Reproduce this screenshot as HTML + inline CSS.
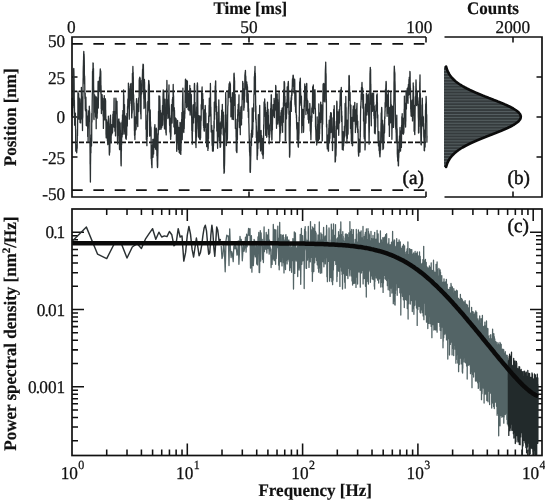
<!DOCTYPE html>
<html><head><meta charset="utf-8"><title>Figure</title>
<style>html,body{margin:0;padding:0;background:#fff}svg{display:block}</style></head>
<body>
<svg width="545" height="501" viewBox="0 0 545 501">
<rect width="545" height="501" fill="#fff"/>
<g fill="none" stroke="#111" stroke-linecap="butt">
<path d="M72.0 77.0h5.5M542.0 77.0h-5.5M72.0 117.0h5.5M542.0 117.0h-5.5M72.0 157.0h5.5M542.0 157.0h-5.5M249.0 37.0v5.5M249.0 197.0v-5.5M426.0 37.0v5.5M426.0 197.0v-5.5M513.0 37.0v5.5M513.0 197.0v-5.5M106.71 209.0v6.0M106.71 455.5v-6.0M127.01 209.0v6.0M127.01 455.5v-6.0M141.42 209.0v6.0M141.42 455.5v-6.0M152.59 209.0v6.0M152.59 455.5v-6.0M161.72 209.0v6.0M161.72 455.5v-6.0M169.44 209.0v6.0M169.44 455.5v-6.0M176.13 209.0v6.0M176.13 455.5v-6.0M182.02 209.0v6.0M182.02 455.5v-6.0M187.30 209.0v12.0M187.30 455.5v-12.0M222.01 209.0v6.0M222.01 455.5v-6.0M242.31 209.0v6.0M242.31 455.5v-6.0M256.72 209.0v6.0M256.72 455.5v-6.0M267.89 209.0v6.0M267.89 455.5v-6.0M277.02 209.0v6.0M277.02 455.5v-6.0M284.74 209.0v6.0M284.74 455.5v-6.0M291.43 209.0v6.0M291.43 455.5v-6.0M297.32 209.0v6.0M297.32 455.5v-6.0M302.60 209.0v12.0M302.60 455.5v-12.0M337.31 209.0v6.0M337.31 455.5v-6.0M357.61 209.0v6.0M357.61 455.5v-6.0M372.02 209.0v6.0M372.02 455.5v-6.0M383.19 209.0v6.0M383.19 455.5v-6.0M392.32 209.0v6.0M392.32 455.5v-6.0M400.04 209.0v6.0M400.04 455.5v-6.0M406.73 209.0v6.0M406.73 455.5v-6.0M412.62 209.0v6.0M412.62 455.5v-6.0M417.90 209.0v12.0M417.90 455.5v-12.0M452.61 209.0v6.0M452.61 455.5v-6.0M472.91 209.0v6.0M472.91 455.5v-6.0M487.32 209.0v6.0M487.32 455.5v-6.0M498.49 209.0v6.0M498.49 455.5v-6.0M507.62 209.0v6.0M507.62 455.5v-6.0M515.34 209.0v6.0M515.34 455.5v-6.0M522.03 209.0v6.0M522.03 455.5v-6.0M527.92 209.0v6.0M527.92 455.5v-6.0M533.20 209.0v12.0M533.20 455.5v-12.0M72.0 440.66h6.0M542.0 440.66h-6.0M72.0 427.07h6.0M542.0 427.07h-6.0M72.0 417.42h6.0M542.0 417.42h-6.0M72.0 409.94h6.0M542.0 409.94h-6.0M72.0 403.83h6.0M542.0 403.83h-6.0M72.0 398.66h6.0M542.0 398.66h-6.0M72.0 394.18h6.0M542.0 394.18h-6.0M72.0 390.23h6.0M542.0 390.23h-6.0M72.0 386.70h12.0M542.0 386.70h-12.0M72.0 363.46h6.0M542.0 363.46h-6.0M72.0 349.87h6.0M542.0 349.87h-6.0M72.0 340.22h6.0M542.0 340.22h-6.0M72.0 332.74h6.0M542.0 332.74h-6.0M72.0 326.63h6.0M542.0 326.63h-6.0M72.0 321.46h6.0M542.0 321.46h-6.0M72.0 316.98h6.0M542.0 316.98h-6.0M72.0 313.03h6.0M542.0 313.03h-6.0M72.0 309.50h12.0M542.0 309.50h-12.0M72.0 286.26h6.0M542.0 286.26h-6.0M72.0 272.67h6.0M542.0 272.67h-6.0M72.0 263.02h6.0M542.0 263.02h-6.0M72.0 255.54h6.0M542.0 255.54h-6.0M72.0 249.43h6.0M542.0 249.43h-6.0M72.0 244.26h6.0M542.0 244.26h-6.0M72.0 239.78h6.0M542.0 239.78h-6.0M72.0 235.83h6.0M542.0 235.83h-6.0M72.0 232.30h12.0M542.0 232.30h-12.0" stroke-width="1.55"/>
</g>
<g fill="none" stroke="#111" stroke-width="1.65">
<path d="M72.0 43.8H424.6M72.0 190.1H424.6" stroke-dasharray="10.68 10.68"/>
<path d="M72.0 91.4H426.0M72.0 142.4H426.0" stroke-dasharray="5 2"/>
</g>
<polyline points="72.0,116.5 72.1,105.3 72.2,98.4 72.2,101.1 72.3,99.0 72.4,111.6 72.5,111.9 72.6,116.9 72.6,110.6 72.7,113.7 72.8,105.7 72.9,103.5 73.0,107.7 73.0,102.8 73.1,104.3 73.2,88.1 73.3,77.6 73.4,74.6 73.4,73.6 73.5,69.9 73.6,68.8 73.7,70.2 73.8,68.7 73.8,68.5 73.9,71.4 74.0,76.3 74.1,79.2 74.2,89.5 74.2,95.2 74.3,105.7 74.4,100.2 74.5,109.0 74.6,118.7 74.6,124.9 74.7,122.0 74.8,125.3 74.9,122.2 75.0,120.3 75.1,121.1 75.1,117.9 75.2,117.9 75.3,121.9 75.4,113.2 75.5,123.1 75.5,125.6 75.6,129.8 75.7,143.4 75.8,151.2 75.9,150.3 75.9,151.0 76.0,149.7 76.1,147.0 76.2,144.6 76.3,150.9 76.3,146.2 76.4,151.1 76.5,150.8 76.6,149.0 76.7,152.8 76.7,149.3 76.8,151.5 76.9,149.6 77.0,147.1 77.1,148.4 77.1,147.9 77.2,148.3 77.3,135.9 77.4,129.5 77.5,130.6 77.5,136.1 77.6,125.1 77.7,118.3 77.8,116.6 77.9,108.9 77.9,98.0 78.0,91.1 78.1,99.4 78.2,102.5 78.3,105.3 78.3,103.3 78.4,105.4 78.5,97.3 78.6,103.8 78.7,100.2 78.7,93.6 78.8,113.0 78.9,116.5 79.0,119.2 79.1,115.0 79.1,114.7 79.2,97.8 79.3,110.5 79.4,114.4 79.5,109.4 79.5,99.0 79.6,105.3 79.7,104.0 79.8,103.7 79.9,108.4 79.9,110.2 80.0,122.5 80.1,119.0 80.2,113.3 80.3,115.4 80.3,116.0 80.4,121.5 80.5,122.3 80.6,111.0 80.7,113.7 80.7,122.9 80.8,113.6 80.9,103.2 81.0,98.7 81.1,98.9 81.2,110.7 81.2,111.1 81.3,103.4 81.4,87.5 81.5,96.8 81.6,107.3 81.6,100.5 81.7,103.5 81.8,111.1 81.9,119.0 82.0,113.5 82.0,108.2 82.1,96.9 82.2,99.8 82.3,106.3 82.4,105.4 82.4,123.2 82.5,130.5 82.6,115.0 82.7,118.2 82.8,116.2 82.8,115.5 82.9,100.4 83.0,89.2 83.1,79.3 83.2,77.0 83.2,72.3 83.3,67.1 83.4,64.8 83.5,59.8 83.6,62.4 83.6,57.4 83.7,53.2 83.8,51.5 83.9,54.9 84.0,54.3 84.0,53.9 84.1,54.7 84.2,57.5 84.3,62.3 84.4,75.0 84.4,79.9 84.5,84.1 84.6,75.9 84.7,78.7 84.8,87.7 84.8,91.7 84.9,96.2 85.0,98.7 85.1,95.2 85.2,93.6 85.2,93.2 85.3,108.9 85.4,109.6 85.5,110.8 85.6,106.2 85.6,107.7 85.7,103.5 85.8,97.9 85.9,97.1 86.0,103.2 86.0,103.8 86.1,110.2 86.2,120.6 86.3,125.6 86.4,109.3 86.4,114.8 86.5,120.0 86.6,124.6 86.7,109.8 86.8,114.7 86.9,117.0 86.9,119.9 87.0,122.9 87.1,115.6 87.2,117.1 87.3,125.1 87.3,126.3 87.4,116.7 87.5,120.3 87.6,126.0 87.7,125.5 87.7,136.6 87.8,121.1 87.9,130.7 88.0,130.7 88.1,133.6 88.1,142.2 88.2,129.0 88.3,128.4 88.4,121.9 88.5,121.6 88.5,113.7 88.6,111.0 88.7,114.2 88.8,115.7 88.9,111.5 88.9,115.9 89.0,112.3 89.1,116.7 89.2,119.4 89.3,113.2 89.3,106.2 89.4,108.7 89.5,112.1 89.6,111.7 89.7,115.9 89.7,113.5 89.8,121.9 89.9,139.7 90.0,147.1 90.1,156.1 90.1,163.8 90.2,164.8 90.3,173.9 90.4,182.1 90.5,167.8 90.5,165.9 90.6,158.9 90.7,146.6 90.8,144.1 90.9,153.0 90.9,148.9 91.0,143.8 91.1,138.1 91.2,143.9 91.3,136.6 91.3,135.0 91.4,141.3 91.5,146.0 91.6,141.8 91.7,142.1 91.7,129.2 91.8,113.3 91.9,116.9 92.0,122.3 92.1,115.0 92.1,112.9 92.2,101.4 92.3,95.2 92.4,92.0 92.5,75.2 92.5,71.4 92.6,72.6 92.7,76.3 92.8,68.9 92.9,73.0 93.0,68.8 93.0,62.8 93.1,63.3 93.2,63.6 93.3,76.1 93.4,79.6 93.4,72.2 93.5,68.4 93.6,85.9 93.7,90.4 93.8,94.0 93.8,110.0 93.9,118.8 94.0,119.5 94.1,102.2 94.2,107.5 94.2,112.5 94.3,110.9 94.4,110.7 94.5,98.7 94.6,96.4 94.6,94.9 94.7,95.5 94.8,102.6 94.9,110.4 95.0,108.7 95.0,95.9 95.1,101.8 95.2,96.5 95.3,102.7 95.4,102.5 95.4,107.0 95.5,111.3 95.6,117.1 95.7,106.8 95.8,105.7 95.8,112.8 95.9,110.7 96.0,113.5 96.1,114.1 96.2,128.7 96.2,125.1 96.3,97.0 96.4,104.6 96.5,100.4 96.6,104.9 96.6,107.5 96.7,107.0 96.8,114.0 96.9,107.0 97.0,108.3 97.0,104.0 97.1,118.2 97.2,113.2 97.3,103.3 97.4,113.2 97.4,106.6 97.5,102.5 97.6,100.6 97.7,97.7 97.8,98.4 97.8,101.2 97.9,100.5 98.0,88.0 98.1,81.3 98.2,107.3 98.2,101.1 98.3,108.0 98.4,99.9 98.5,96.7 98.6,93.4 98.7,86.0 98.7,81.4 98.8,86.1 98.9,89.6 99.0,87.4 99.1,90.8 99.1,86.8 99.2,85.3 99.3,80.4 99.4,83.9 99.5,81.8 99.5,78.4 99.6,77.1 99.7,78.0 99.8,91.6 99.9,81.5 99.9,76.5 100.0,76.2 100.1,73.5 100.2,70.9 100.3,68.9 100.3,76.4 100.4,74.8 100.5,74.5 100.6,71.8 100.7,71.3 100.7,70.8 100.8,73.0 100.9,93.9 101.0,85.3 101.1,89.4 101.1,96.7 101.2,109.0 101.3,102.6 101.4,113.5 101.5,104.7 101.5,106.9 101.6,106.7 101.7,100.8 101.8,103.0 101.9,100.2 101.9,99.5 102.0,97.6 102.1,94.7 102.2,97.6 102.3,109.9 102.3,101.9 102.4,102.9 102.5,99.6 102.6,104.4 102.7,107.3 102.7,107.5 102.8,105.6 102.9,98.3 103.0,101.2 103.1,110.6 103.1,115.9 103.2,116.5 103.3,109.9 103.4,128.4 103.5,120.2 103.5,116.9 103.6,110.7 103.7,120.3 103.8,118.6 103.9,102.3 103.9,104.5 104.0,103.0 104.1,104.0 104.2,104.9 104.3,100.8 104.3,95.6 104.4,104.1 104.5,107.0 104.6,116.8 104.7,114.5 104.8,117.2 104.8,119.8 104.9,116.6 105.0,103.8 105.1,103.2 105.2,98.6 105.2,105.4 105.3,104.7 105.4,99.3 105.5,101.6 105.6,100.6 105.6,110.1 105.7,110.0 105.8,116.5 105.9,119.6 106.0,126.1 106.0,134.0 106.1,134.9 106.2,137.7 106.3,137.9 106.4,136.1 106.4,120.3 106.5,125.8 106.6,121.8 106.7,119.9 106.8,127.2 106.8,124.5 106.9,126.0 107.0,125.0 107.1,126.7 107.2,133.0 107.2,121.9 107.3,133.6 107.4,140.8 107.5,130.1 107.6,139.4 107.6,140.8 107.7,143.2 107.8,144.6 107.9,135.3 108.0,137.8 108.0,143.9 108.1,140.6 108.2,141.4 108.3,134.9 108.4,125.5 108.4,116.2 108.5,119.9 108.6,127.8 108.7,123.4 108.8,132.7 108.8,131.4 108.9,141.7 109.0,134.2 109.1,133.3 109.2,141.1 109.2,147.8 109.3,154.0 109.4,155.0 109.5,152.2 109.6,151.5 109.6,146.9 109.7,140.9 109.8,152.2 109.9,144.3 110.0,134.9 110.0,127.6 110.1,124.4 110.2,119.2 110.3,118.0 110.4,117.4 110.5,115.2 110.5,124.7 110.6,118.8 110.7,122.8 110.8,124.9 110.9,124.7 110.9,132.7 111.0,133.8 111.1,142.8 111.2,135.4 111.3,131.2 111.3,126.5 111.4,131.4 111.5,132.9 111.6,135.0 111.7,127.4 111.7,129.8 111.8,129.3 111.9,125.7 112.0,124.6 112.1,124.8 112.1,126.2 112.2,124.4 112.3,129.7 112.4,133.0 112.5,130.4 112.5,131.1 112.6,132.2 112.7,127.9 112.8,116.8 112.9,119.0 112.9,114.2 113.0,119.5 113.1,121.8 113.2,120.1 113.3,113.9 113.3,111.5 113.4,115.1 113.5,111.3 113.6,118.0 113.7,126.8 113.7,126.5 113.8,113.8 113.9,111.6 114.0,101.8 114.1,98.1 114.1,112.9 114.2,114.5 114.3,122.3 114.4,127.4 114.5,115.2 114.5,115.2 114.6,121.5 114.7,111.5 114.8,122.8 114.9,126.8 114.9,131.2 115.0,127.6 115.1,128.0 115.2,129.5 115.3,111.9 115.3,123.8 115.4,128.9 115.5,135.7 115.6,135.9 115.7,129.3 115.7,118.0 115.8,103.2 115.9,98.1 116.0,102.9 116.1,108.4 116.1,99.7 116.2,106.2 116.3,106.2 116.4,105.6 116.5,106.9 116.6,102.0 116.6,106.2 116.7,103.7 116.8,113.7 116.9,104.4 117.0,101.3 117.0,105.1 117.1,111.7 117.2,116.7 117.3,126.8 117.4,128.5 117.4,133.4 117.5,140.8 117.6,138.7 117.7,144.1 117.8,136.6 117.8,128.9 117.9,133.6 118.0,124.4 118.1,123.5 118.2,120.8 118.2,125.2 118.3,135.3 118.4,128.5 118.5,133.5 118.6,123.7 118.6,119.3 118.7,133.9 118.8,127.7 118.9,118.9 119.0,127.1 119.0,121.8 119.1,127.5 119.2,131.4 119.3,140.5 119.4,135.2 119.4,140.9 119.5,148.9 119.6,149.7 119.7,133.9 119.8,132.7 119.8,122.1 119.9,126.4 120.0,133.1 120.1,136.0 120.2,123.3 120.2,125.6 120.3,130.4 120.4,130.5 120.5,139.6 120.6,134.8 120.6,136.1 120.7,146.6 120.8,147.2 120.9,159.3 121.0,164.0 121.0,160.4 121.1,165.8 121.2,165.0 121.3,150.3 121.4,151.2 121.4,142.3 121.5,140.4 121.6,145.0 121.7,133.1 121.8,134.5 121.8,122.6 121.9,129.7 122.0,126.5 122.1,137.1 122.2,120.7 122.3,120.8 122.3,126.7 122.4,127.0 122.5,114.8 122.6,122.8 122.7,126.2 122.7,134.5 122.8,123.8 122.9,110.4 123.0,116.7 123.1,113.9 123.1,115.0 123.2,114.3 123.3,115.1 123.4,118.5 123.5,122.6 123.5,108.8 123.6,89.8 123.7,98.8 123.8,94.9 123.9,97.5 123.9,111.6 124.0,116.4 124.1,129.3 124.2,134.0 124.3,116.9 124.3,122.5 124.4,105.3 124.5,104.6 124.6,118.2 124.7,128.1 124.7,127.9 124.8,129.8 124.9,130.2 125.0,120.1 125.1,128.6 125.1,123.6 125.2,118.7 125.3,116.0 125.4,129.7 125.5,127.0 125.5,132.0 125.6,131.2 125.7,138.3 125.8,133.2 125.9,123.4 125.9,116.9 126.0,122.3 126.1,129.5 126.2,139.3 126.3,138.0 126.3,138.5 126.4,134.2 126.5,135.9 126.6,134.5 126.7,134.3 126.7,135.3 126.8,123.0 126.9,113.5 127.0,115.2 127.1,120.7 127.1,123.1 127.2,124.6 127.3,126.0 127.4,119.9 127.5,111.1 127.5,106.7 127.6,109.5 127.7,108.3 127.8,100.8 127.9,98.8 127.9,103.0 128.0,102.4 128.1,99.5 128.2,102.6 128.3,98.8 128.4,87.3 128.4,83.1 128.5,94.5 128.6,88.1 128.7,91.6 128.8,89.9 128.8,97.7 128.9,102.2 129.0,105.7 129.1,108.3 129.2,116.5 129.2,111.6 129.3,119.2 129.4,109.0 129.5,101.2 129.6,105.7 129.6,101.8 129.7,95.1 129.8,93.2 129.9,103.8 130.0,102.2 130.0,90.2 130.1,86.2 130.2,89.7 130.3,89.0 130.4,84.1 130.4,94.5 130.5,86.1 130.6,89.4 130.7,95.5 130.8,97.9 130.8,92.1 130.9,84.8 131.0,83.5 131.1,90.6 131.2,100.3 131.2,95.5 131.3,99.6 131.4,99.0 131.5,96.6 131.6,100.1 131.6,108.0 131.7,117.4 131.8,117.8 131.9,107.5 132.0,107.2 132.0,113.2 132.1,113.3 132.2,109.9 132.3,98.9 132.4,91.2 132.4,73.5 132.5,73.6 132.6,74.3 132.7,74.0 132.8,75.0 132.8,71.7 132.9,66.5 133.0,71.2 133.1,73.3 133.2,72.3 133.2,75.7 133.3,77.2 133.4,97.5 133.5,97.7 133.6,94.7 133.6,98.2 133.7,100.1 133.8,110.0 133.9,104.6 134.0,102.8 134.1,111.9 134.1,105.8 134.2,112.8 134.3,119.1 134.4,130.8 134.5,128.0 134.5,133.9 134.6,135.8 134.7,133.0 134.8,136.8 134.9,139.5 134.9,127.8 135.0,135.0 135.1,135.1 135.2,127.9 135.3,116.9 135.3,119.3 135.4,123.4 135.5,128.7 135.6,121.5 135.7,125.7 135.7,130.0 135.8,123.3 135.9,119.1 136.0,120.0 136.1,117.7 136.1,129.2 136.2,114.2 136.3,108.5 136.4,101.0 136.5,104.9 136.5,98.7 136.6,108.4 136.7,111.0 136.8,106.8 136.9,111.2 136.9,123.6 137.0,121.5 137.1,119.0 137.2,105.0 137.3,106.5 137.3,110.6 137.4,108.8 137.5,106.7 137.6,103.9 137.7,112.0 137.7,125.6 137.8,126.6 137.9,110.0 138.0,106.8 138.1,109.4 138.1,105.6 138.2,105.7 138.3,100.5 138.4,110.8 138.5,107.0 138.5,98.2 138.6,103.7 138.7,111.6 138.8,108.9 138.9,107.0 138.9,104.8 139.0,97.1 139.1,97.5 139.2,79.9 139.3,80.1 139.3,79.8 139.4,78.5 139.5,79.3 139.6,83.0 139.7,79.5 139.7,77.4 139.8,77.3 139.9,77.7 140.0,77.7 140.1,78.6 140.2,78.3 140.2,79.0 140.3,81.1 140.4,82.2 140.5,95.8 140.6,102.0 140.6,101.8 140.7,113.9 140.8,105.3 140.9,112.1 141.0,118.8 141.0,118.7 141.1,98.2 141.2,93.8 141.3,88.1 141.4,92.7 141.4,88.1 141.5,84.0 141.6,94.1 141.7,91.5 141.8,86.9 141.8,80.3 141.9,85.3 142.0,81.2 142.1,90.4 142.2,85.5 142.2,79.9 142.3,77.8 142.4,76.3 142.5,72.3 142.6,69.1 142.6,69.7 142.7,73.0 142.8,75.7 142.9,65.3 143.0,68.0 143.0,64.2 143.1,64.9 143.2,64.3 143.3,64.3 143.4,64.8 143.4,66.0 143.5,72.2 143.6,89.5 143.7,89.0 143.8,98.5 143.8,95.7 143.9,95.2 144.0,108.5 144.1,95.1 144.2,91.5 144.2,88.3 144.3,85.8 144.4,79.4 144.5,81.7 144.6,85.1 144.6,82.2 144.7,94.2 144.8,97.7 144.9,99.7 145.0,89.6 145.0,90.4 145.1,91.3 145.2,90.3 145.3,93.0 145.4,98.5 145.4,107.8 145.5,105.1 145.6,102.1 145.7,103.3 145.8,104.8 145.9,121.2 145.9,129.2 146.0,122.6 146.1,115.0 146.2,120.6 146.3,129.7 146.3,139.5 146.4,131.5 146.5,137.3 146.6,137.3 146.7,132.1 146.7,136.9 146.8,139.2 146.9,145.7 147.0,139.2 147.1,131.4 147.1,138.9 147.2,129.2 147.3,134.2 147.4,136.5 147.5,129.8 147.5,122.0 147.6,119.9 147.7,110.4 147.8,101.5 147.9,108.9 147.9,112.2 148.0,105.2 148.1,110.8 148.2,110.1 148.3,99.6 148.3,89.6 148.4,89.7 148.5,85.0 148.6,84.0 148.7,80.7 148.7,80.4 148.8,80.9 148.9,80.8 149.0,81.7 149.1,90.9 149.1,83.2 149.2,86.2 149.3,84.6 149.4,91.7 149.5,102.0 149.5,115.9 149.6,125.8 149.7,136.2 149.8,119.2 149.9,125.6 149.9,130.4 150.0,120.8 150.1,115.4 150.2,110.0 150.3,111.8 150.3,115.2 150.4,122.3 150.5,121.6 150.6,126.5 150.7,134.1 150.7,135.4 150.8,132.1 150.9,126.8 151.0,127.9 151.1,130.2 151.1,141.0 151.2,158.5 151.3,158.8 151.4,157.3 151.5,160.9 151.5,158.8 151.6,164.3 151.7,164.8 151.8,165.2 151.9,167.7 152.0,167.7 152.0,166.6 152.1,145.3 152.2,151.7 152.3,150.0 152.4,147.4 152.4,148.3 152.5,147.5 152.6,146.2 152.7,145.6 152.8,146.0 152.8,139.3 152.9,152.8 153.0,157.3 153.1,147.8 153.2,139.4 153.2,141.8 153.3,151.7 153.4,153.0 153.5,149.6 153.6,153.3 153.6,154.1 153.7,148.7 153.8,139.1 153.9,144.5 154.0,145.6 154.0,140.2 154.1,141.4 154.2,147.1 154.3,147.3 154.4,144.3 154.4,142.6 154.5,127.8 154.6,127.0 154.7,136.1 154.8,134.7 154.8,127.9 154.9,124.6 155.0,132.3 155.1,139.7 155.2,139.8 155.2,138.7 155.3,135.0 155.4,137.6 155.5,149.2 155.6,140.0 155.6,141.1 155.7,134.7 155.8,139.5 155.9,135.8 156.0,133.2 156.0,135.7 156.1,136.4 156.2,131.0 156.3,128.1 156.4,133.4 156.4,144.9 156.5,150.0 156.6,141.9 156.7,133.6 156.8,140.8 156.8,142.0 156.9,156.1 157.0,150.1 157.1,152.3 157.2,161.3 157.2,153.8 157.3,163.4 157.4,166.9 157.5,167.5 157.6,167.2 157.7,165.0 157.7,161.3 157.8,157.1 157.9,151.4 158.0,139.9 158.1,132.0 158.1,129.6 158.2,135.0 158.3,133.8 158.4,125.3 158.5,115.6 158.5,111.4 158.6,124.9 158.7,113.8 158.8,113.7 158.9,101.8 158.9,95.8 159.0,102.3 159.1,111.4 159.2,110.6 159.3,117.5 159.3,129.6 159.4,123.5 159.5,116.5 159.6,120.3 159.7,119.7 159.7,96.2 159.8,98.9 159.9,100.9 160.0,107.6 160.1,112.4 160.1,116.6 160.2,112.8 160.3,115.2 160.4,113.5 160.5,110.5 160.5,111.2 160.6,121.2 160.7,128.0 160.8,129.1 160.9,127.1 160.9,129.4 161.0,129.3 161.1,126.3 161.2,115.2 161.3,121.6 161.3,121.4 161.4,128.1 161.5,120.8 161.6,113.1 161.7,114.9 161.7,127.6 161.8,114.3 161.9,117.9 162.0,122.2 162.1,124.6 162.1,124.9 162.2,125.8 162.3,118.4 162.4,110.3 162.5,105.5 162.5,123.0 162.6,125.2 162.7,124.1 162.8,121.1 162.9,119.7 162.9,108.1 163.0,98.1 163.1,95.0 163.2,89.9 163.3,92.4 163.3,100.6 163.4,98.8 163.5,103.2 163.6,97.4 163.7,100.6 163.8,102.9 163.8,91.3 163.9,101.5 164.0,100.2 164.1,101.2 164.2,100.2 164.2,114.9 164.3,109.5 164.4,126.4 164.5,128.9 164.6,122.9 164.6,122.5 164.7,115.0 164.8,116.2 164.9,99.6 165.0,108.6 165.0,99.2 165.1,108.9 165.2,114.8 165.3,115.8 165.4,115.3 165.4,117.8 165.5,113.7 165.6,122.7 165.7,129.5 165.8,123.7 165.8,128.2 165.9,133.1 166.0,131.7 166.1,124.1 166.2,134.9 166.2,125.3 166.3,120.6 166.4,104.7 166.5,101.6 166.6,89.0 166.6,89.6 166.7,92.7 166.8,93.5 166.9,80.5 167.0,84.1 167.0,93.2 167.1,110.2 167.2,113.7 167.3,108.7 167.4,102.8 167.4,99.7 167.5,100.9 167.6,101.2 167.7,106.7 167.8,109.0 167.8,115.8 167.9,118.6 168.0,116.5 168.1,112.0 168.2,110.7 168.2,115.2 168.3,117.5 168.4,117.1 168.5,116.7 168.6,117.1 168.6,99.4 168.7,94.6 168.8,96.3 168.9,90.1 169.0,85.0 169.0,98.3 169.1,103.3 169.2,105.1 169.3,107.4 169.4,110.6 169.5,118.2 169.5,121.4 169.6,125.4 169.7,117.9 169.8,120.8 169.9,125.8 169.9,131.9 170.0,121.9 170.1,119.0 170.2,118.3 170.3,124.4 170.3,132.4 170.4,134.3 170.5,133.3 170.6,139.2 170.7,139.3 170.7,131.2 170.8,123.3 170.9,136.4 171.0,132.4 171.1,120.6 171.1,115.7 171.2,119.5 171.3,117.2 171.4,109.9 171.5,104.7 171.5,108.7 171.6,110.3 171.7,110.9 171.8,115.5 171.9,113.6 171.9,116.9 172.0,118.3 172.1,123.0 172.2,119.8 172.3,106.7 172.3,106.5 172.4,99.2 172.5,110.9 172.6,105.7 172.7,102.4 172.7,97.3 172.8,100.8 172.9,102.7 173.0,100.9 173.1,97.8 173.1,92.7 173.2,84.5 173.3,90.8 173.4,90.4 173.5,100.8 173.5,96.9 173.6,95.6 173.7,106.8 173.8,117.4 173.9,123.0 173.9,126.9 174.0,117.3 174.1,115.5 174.2,114.8 174.3,107.7 174.3,109.9 174.4,114.6 174.5,110.3 174.6,116.7 174.7,121.3 174.7,134.1 174.8,130.3 174.9,129.8 175.0,125.0 175.1,128.5 175.1,128.3 175.2,123.2 175.3,117.8 175.4,126.7 175.5,126.7 175.6,124.9 175.6,133.4 175.7,132.2 175.8,119.6 175.9,128.7 176.0,130.6 176.0,118.7 176.1,128.3 176.2,119.3 176.3,124.8 176.4,141.9 176.4,141.9 176.5,136.0 176.6,139.3 176.7,151.2 176.8,148.8 176.8,151.3 176.9,137.0 177.0,136.9 177.1,139.2 177.2,137.8 177.2,140.8 177.3,135.1 177.4,127.2 177.5,125.9 177.6,120.5 177.6,123.2 177.7,125.9 177.8,125.3 177.9,132.2 178.0,129.8 178.0,138.5 178.1,141.7 178.2,142.5 178.3,144.5 178.4,146.1 178.4,148.5 178.5,149.5 178.6,137.1 178.7,127.5 178.8,135.4 178.8,140.2 178.9,139.1 179.0,138.3 179.1,139.4 179.2,152.4 179.2,149.1 179.3,150.8 179.4,150.0 179.5,151.0 179.6,151.2 179.6,153.1 179.7,142.4 179.8,138.7 179.9,132.4 180.0,122.5 180.0,136.8 180.1,151.1 180.2,149.0 180.3,138.7 180.4,137.8 180.4,143.5 180.5,147.5 180.6,144.2 180.7,153.8 180.8,154.4 180.8,154.1 180.9,146.6 181.0,151.1 181.1,140.6 181.2,139.0 181.3,141.6 181.3,122.6 181.4,129.5 181.5,135.8 181.6,119.5 181.7,120.7 181.7,129.6 181.8,122.5 181.9,112.4 182.0,127.1 182.1,135.5 182.1,134.0 182.2,139.7 182.3,135.9 182.4,123.3 182.5,111.6 182.5,104.4 182.6,100.2 182.7,95.6 182.8,93.0 182.9,91.4 182.9,88.2 183.0,99.4 183.1,104.8 183.2,112.2 183.3,118.0 183.3,127.7 183.4,131.4 183.5,125.8 183.6,126.7 183.7,127.1 183.7,123.5 183.8,132.6 183.9,119.8 184.0,119.0 184.1,118.4 184.1,126.6 184.2,128.7 184.3,123.8 184.4,111.8 184.5,111.0 184.5,115.4 184.6,113.0 184.7,118.2 184.8,108.1 184.9,113.7 184.9,113.5 185.0,104.3 185.1,99.4 185.2,91.0 185.3,84.7 185.3,90.4 185.4,80.1 185.5,79.1 185.6,79.3 185.7,83.4 185.7,83.5 185.8,90.7 185.9,98.8 186.0,97.4 186.1,99.1 186.1,102.2 186.2,96.1 186.3,95.2 186.4,101.1 186.5,107.6 186.5,101.5 186.6,97.1 186.7,93.4 186.8,91.1 186.9,85.7 186.9,80.3 187.0,94.2 187.1,84.5 187.2,84.9 187.3,86.3 187.4,81.3 187.4,100.8 187.5,95.6 187.6,105.3 187.7,103.9 187.8,106.4 187.8,103.4 187.9,104.7 188.0,102.4 188.1,109.5 188.2,103.2 188.2,103.8 188.3,104.8 188.4,92.8 188.5,104.8 188.6,99.8 188.6,96.8 188.7,96.4 188.8,98.5 188.9,99.7 189.0,110.7 189.0,107.6 189.1,101.0 189.2,93.6 189.3,95.3 189.4,102.3 189.4,100.0 189.5,94.7 189.6,96.2 189.7,89.6 189.8,95.7 189.8,85.4 189.9,91.5 190.0,89.5 190.1,115.1 190.2,110.7 190.2,105.0 190.3,100.4 190.4,96.0 190.5,88.7 190.6,97.1 190.6,102.1 190.7,111.5 190.8,105.8 190.9,98.9 191.0,100.9 191.0,100.5 191.1,103.5 191.2,99.2 191.3,94.6 191.4,102.3 191.4,102.5 191.5,112.7 191.6,117.1 191.7,118.1 191.8,128.2 191.8,130.6 191.9,123.9 192.0,132.6 192.1,136.9 192.2,140.3 192.2,139.7 192.3,144.2 192.4,133.1 192.5,128.8 192.6,129.6 192.6,131.8 192.7,130.5 192.8,123.8 192.9,121.7 193.0,106.9 193.1,105.0 193.1,105.9 193.2,105.9 193.3,115.6 193.4,117.5 193.5,116.3 193.5,115.7 193.6,122.9 193.7,112.6 193.8,108.8 193.9,104.4 193.9,107.8 194.0,107.7 194.1,117.6 194.2,115.8 194.3,97.7 194.3,87.6 194.4,83.9 194.5,83.5 194.6,84.7 194.7,95.0 194.7,107.1 194.8,106.1 194.9,105.1 195.0,105.8 195.1,102.5 195.1,105.6 195.2,108.4 195.3,111.4 195.4,113.3 195.5,112.2 195.5,131.7 195.6,127.5 195.7,134.4 195.8,145.3 195.9,141.9 195.9,136.6 196.0,147.5 196.1,140.9 196.2,141.6 196.3,134.6 196.3,137.3 196.4,137.5 196.5,135.2 196.6,122.6 196.7,121.7 196.7,106.8 196.8,107.8 196.9,107.5 197.0,94.3 197.1,86.8 197.1,85.5 197.2,86.2 197.3,85.0 197.4,82.8 197.5,84.4 197.5,87.2 197.6,86.0 197.7,94.4 197.8,105.2 197.9,113.3 197.9,118.1 198.0,125.8 198.1,129.1 198.2,127.4 198.3,131.1 198.3,131.0 198.4,133.1 198.5,137.0 198.6,134.9 198.7,125.5 198.7,115.6 198.8,119.5 198.9,120.1 199.0,117.4 199.1,132.5 199.2,122.2 199.2,137.1 199.3,122.5 199.4,138.6 199.5,127.2 199.6,123.2 199.6,131.8 199.7,139.3 199.8,130.6 199.9,116.0 200.0,122.0 200.0,125.9 200.1,132.4 200.2,139.7 200.3,134.6 200.4,126.5 200.4,121.8 200.5,131.4 200.6,138.0 200.7,124.8 200.8,125.2 200.8,129.3 200.9,118.5 201.0,120.3 201.1,120.7 201.2,118.0 201.2,104.7 201.3,110.1 201.4,108.0 201.5,105.0 201.6,103.9 201.6,92.5 201.7,93.9 201.8,106.7 201.9,101.1 202.0,95.4 202.0,88.8 202.1,87.0 202.2,104.9 202.3,108.7 202.4,93.9 202.4,97.6 202.5,97.8 202.6,97.8 202.7,93.4 202.8,103.9 202.8,100.8 202.9,106.3 203.0,106.7 203.1,110.3 203.2,99.3 203.2,109.5 203.3,112.9 203.4,119.2 203.5,125.8 203.6,119.4 203.6,120.2 203.7,127.6 203.8,125.8 203.9,124.6 204.0,130.3 204.0,115.2 204.1,121.3 204.2,118.1 204.3,131.2 204.4,130.3 204.4,118.1 204.5,123.1 204.6,109.7 204.7,115.8 204.8,109.4 204.9,112.7 204.9,115.8 205.0,120.2 205.1,117.8 205.2,105.4 205.3,107.7 205.3,106.2 205.4,113.1 205.5,114.9 205.6,127.4 205.7,123.5 205.7,123.1 205.8,112.9 205.9,121.0 206.0,140.0 206.1,142.0 206.1,129.1 206.2,130.2 206.3,131.9 206.4,133.8 206.5,134.7 206.5,135.1 206.6,140.2 206.7,146.7 206.8,139.7 206.9,146.7 206.9,139.2 207.0,133.3 207.1,141.1 207.2,133.7 207.3,129.0 207.3,123.6 207.4,132.4 207.5,127.2 207.6,135.6 207.7,145.9 207.7,145.8 207.8,141.6 207.9,150.4 208.0,138.9 208.1,137.9 208.1,144.6 208.2,148.6 208.3,132.0 208.4,133.9 208.5,138.6 208.5,135.9 208.6,127.2 208.7,115.8 208.8,120.0 208.9,120.1 208.9,122.0 209.0,113.4 209.1,105.2 209.2,110.0 209.3,98.2 209.3,103.0 209.4,105.0 209.5,112.0 209.6,116.1 209.7,116.1 209.7,110.8 209.8,103.8 209.9,113.2 210.0,105.2 210.1,107.4 210.1,107.1 210.2,107.8 210.3,99.8 210.4,83.4 210.5,88.7 210.5,87.1 210.6,103.5 210.7,109.1 210.8,107.0 210.9,112.9 211.0,120.1 211.0,114.1 211.1,124.7 211.2,131.9 211.3,130.3 211.4,129.6 211.4,130.8 211.5,129.8 211.6,132.2 211.7,125.3 211.8,131.7 211.8,127.5 211.9,132.9 212.0,140.6 212.1,144.2 212.2,145.8 212.2,142.4 212.3,146.1 212.4,143.9 212.5,151.0 212.6,150.0 212.6,146.8 212.7,139.3 212.8,150.6 212.9,138.5 213.0,130.4 213.0,134.1 213.1,139.7 213.2,148.9 213.3,151.1 213.4,145.2 213.4,145.8 213.5,146.0 213.6,140.2 213.7,136.9 213.8,141.0 213.8,142.5 213.9,130.5 214.0,121.2 214.1,125.8 214.2,128.3 214.2,123.0 214.3,102.2 214.4,112.0 214.5,114.2 214.6,113.1 214.6,119.3 214.7,109.1 214.8,115.0 214.9,103.5 215.0,107.0 215.0,91.8 215.1,98.3 215.2,86.4 215.3,85.6 215.4,86.6 215.4,87.0 215.5,83.0 215.6,81.0 215.7,81.0 215.8,93.8 215.8,99.3 215.9,90.5 216.0,91.3 216.1,100.5 216.2,108.1 216.2,103.1 216.3,111.5 216.4,110.8 216.5,108.5 216.6,106.2 216.7,117.0 216.7,124.2 216.8,131.0 216.9,128.6 217.0,118.1 217.1,120.3 217.1,115.4 217.2,112.2 217.3,124.0 217.4,136.9 217.5,144.3 217.5,144.7 217.6,148.3 217.7,137.8 217.8,123.6 217.9,137.2 217.9,142.0 218.0,135.2 218.1,124.7 218.2,130.0 218.3,127.1 218.3,132.6 218.4,133.5 218.5,136.5 218.6,120.0 218.7,117.4 218.7,111.4 218.8,99.8 218.9,105.1 219.0,111.0 219.1,116.7 219.1,119.9 219.2,124.3 219.3,131.9 219.4,127.2 219.5,127.0 219.5,140.7 219.6,136.6 219.7,122.8 219.8,129.5 219.9,125.2 219.9,124.1 220.0,133.6 220.1,147.3 220.2,143.0 220.3,142.8 220.3,143.2 220.4,134.5 220.5,147.0 220.6,144.6 220.7,135.0 220.7,129.9 220.8,131.5 220.9,121.7 221.0,129.2 221.1,133.9 221.1,130.5 221.2,128.4 221.3,129.0 221.4,118.1 221.5,118.7 221.5,115.8 221.6,127.9 221.7,110.1 221.8,122.1 221.9,115.5 221.9,114.3 222.0,111.9 222.1,110.0 222.2,113.4 222.3,105.7 222.3,104.3 222.4,112.2 222.5,109.0 222.6,120.8 222.7,123.1 222.8,125.1 222.8,126.1 222.9,125.2 223.0,127.4 223.1,129.2 223.2,135.0 223.2,118.7 223.3,112.1 223.4,122.3 223.5,125.7 223.6,127.7 223.6,133.3 223.7,148.3 223.8,165.8 223.9,168.8 224.0,162.6 224.0,173.3 224.1,170.5 224.2,170.4 224.3,171.5 224.4,172.3 224.4,167.0 224.5,165.7 224.6,162.5 224.7,155.3 224.8,145.1 224.8,137.5 224.9,130.7 225.0,128.1 225.1,131.9 225.2,114.9 225.2,120.3 225.3,129.3 225.4,120.0 225.5,112.9 225.6,107.8 225.6,99.6 225.7,92.6 225.8,97.9 225.9,98.2 226.0,125.5 226.0,130.1 226.1,114.4 226.2,115.4 226.3,130.7 226.4,142.4 226.4,145.5 226.5,140.8 226.6,125.6 226.7,122.6 226.8,125.9 226.8,134.9 226.9,136.5 227.0,132.6 227.1,140.8 227.2,139.9 227.2,138.4 227.3,132.1 227.4,139.2 227.5,133.5 227.6,124.6 227.6,120.8 227.7,112.7 227.8,105.7 227.9,105.9 228.0,103.5 228.0,104.4 228.1,92.2 228.2,92.8 228.3,90.6 228.4,97.3 228.5,93.8 228.5,90.2 228.6,91.7 228.7,96.6 228.8,97.7 228.9,87.4 228.9,87.0 229.0,86.8 229.1,84.1 229.2,92.7 229.3,84.4 229.3,83.3 229.4,83.7 229.5,83.3 229.6,82.8 229.7,84.1 229.7,86.8 229.8,82.0 229.9,84.0 230.0,83.8 230.1,85.7 230.1,91.0 230.2,97.4 230.3,83.6 230.4,85.4 230.5,102.1 230.5,98.9 230.6,99.4 230.7,98.0 230.8,97.5 230.9,97.2 230.9,116.8 231.0,110.5 231.1,114.1 231.2,111.3 231.3,107.5 231.3,106.1 231.4,106.9 231.5,111.2 231.6,112.2 231.7,109.5 231.7,112.7 231.8,99.9 231.9,110.2 232.0,109.3 232.1,110.2 232.1,119.3 232.2,108.4 232.3,96.4 232.4,92.7 232.5,99.9 232.5,104.0 232.6,93.2 232.7,110.0 232.8,114.8 232.9,108.5 232.9,99.3 233.0,100.0 233.1,103.1 233.2,106.1 233.3,107.0 233.3,115.0 233.4,119.6 233.5,109.4 233.6,97.8 233.7,98.4 233.7,87.4 233.8,82.7 233.9,74.2 234.0,73.6 234.1,73.2 234.1,74.1 234.2,74.5 234.3,79.9 234.4,77.5 234.5,84.7 234.6,80.6 234.6,93.0 234.7,100.0 234.8,105.5 234.9,97.8 235.0,95.7 235.0,98.1 235.1,94.4 235.2,111.2 235.3,118.8 235.4,128.5 235.4,127.7 235.5,124.0 235.6,121.0 235.7,120.5 235.8,121.8 235.8,119.1 235.9,119.2 236.0,123.2 236.1,137.2 236.2,131.6 236.2,139.7 236.3,151.1 236.4,149.0 236.5,148.8 236.6,151.2 236.6,149.0 236.7,151.9 236.8,152.5 236.9,152.6 237.0,148.9 237.0,142.2 237.1,135.1 237.2,132.1 237.3,128.2 237.4,139.4 237.4,132.9 237.5,129.1 237.6,121.3 237.7,114.1 237.8,121.4 237.8,109.6 237.9,116.3 238.0,111.9 238.1,114.0 238.2,105.1 238.2,104.3 238.3,110.3 238.4,105.9 238.5,109.5 238.6,107.4 238.6,103.8 238.7,108.6 238.8,107.9 238.9,100.6 239.0,94.8 239.0,104.3 239.1,109.3 239.2,110.4 239.3,120.8 239.4,127.6 239.4,119.1 239.5,118.3 239.6,113.0 239.7,112.4 239.8,116.0 239.8,116.8 239.9,121.9 240.0,121.0 240.1,126.5 240.2,129.7 240.3,134.7 240.3,118.6 240.4,121.2 240.5,112.3 240.6,120.2 240.7,124.4 240.7,111.7 240.8,110.4 240.9,107.0 241.0,107.7 241.1,110.5 241.1,107.0 241.2,115.5 241.3,110.4 241.4,112.6 241.5,124.9 241.5,114.5 241.6,114.5 241.7,118.7 241.8,118.5 241.9,110.7 241.9,104.8 242.0,110.9 242.1,101.2 242.2,95.8 242.3,90.4 242.3,91.6 242.4,99.7 242.5,99.2 242.6,95.9 242.7,91.5 242.7,81.4 242.8,84.2 242.9,88.6 243.0,88.9 243.1,83.1 243.1,88.5 243.2,88.3 243.3,96.7 243.4,96.2 243.5,93.7 243.5,88.7 243.6,98.0 243.7,91.7 243.8,110.2 243.9,102.4 243.9,99.3 244.0,102.5 244.1,107.7 244.2,105.4 244.3,92.8 244.3,97.5 244.4,91.3 244.5,102.2 244.6,92.9 244.7,91.0 244.7,96.3 244.8,83.3 244.9,75.1 245.0,74.4 245.1,74.8 245.1,72.7 245.2,73.4 245.3,73.6 245.4,70.4 245.5,71.8 245.5,74.4 245.6,75.7 245.7,76.0 245.8,76.6 245.9,79.6 245.9,84.8 246.0,87.9 246.1,87.8 246.2,89.4 246.3,87.0 246.4,87.3 246.4,84.6 246.5,82.4 246.6,84.5 246.7,86.2 246.8,82.0 246.8,98.6 246.9,102.1 247.0,84.1 247.1,95.6 247.2,84.7 247.2,98.1 247.3,98.3 247.4,95.4 247.5,86.7 247.6,92.8 247.6,94.1 247.7,103.1 247.8,95.0 247.9,103.9 248.0,111.5 248.0,103.7 248.1,100.8 248.2,93.6 248.3,100.4 248.4,117.5 248.4,101.5 248.5,116.4 248.6,114.2 248.7,108.7 248.8,113.8 248.8,122.8 248.9,123.8 249.0,127.8 249.1,133.7 249.2,137.7 249.2,135.2 249.3,142.0 249.4,139.0 249.5,149.5 249.6,152.3 249.6,146.7 249.7,149.2 249.8,155.4 249.9,155.8 250.0,157.6 250.0,169.8 250.1,172.3 250.2,171.4 250.3,170.3 250.4,172.3 250.4,170.8 250.5,168.7 250.6,162.8 250.7,158.9 250.8,153.7 250.8,155.9 250.9,150.0 251.0,141.4 251.1,139.9 251.2,134.5 251.2,133.4 251.3,135.4 251.4,134.9 251.5,145.5 251.6,130.3 251.6,136.7 251.7,132.5 251.8,133.3 251.9,129.5 252.0,127.6 252.1,124.1 252.1,115.2 252.2,108.0 252.3,114.4 252.4,131.7 252.5,137.1 252.5,126.3 252.6,135.0 252.7,134.7 252.8,128.5 252.9,129.2 252.9,120.5 253.0,109.7 253.1,113.7 253.2,117.7 253.3,121.7 253.3,110.3 253.4,108.9 253.5,111.4 253.6,108.2 253.7,103.5 253.7,111.8 253.8,110.3 253.9,95.3 254.0,93.7 254.1,93.5 254.1,90.6 254.2,94.2 254.3,76.7 254.4,76.8 254.5,84.8 254.5,83.9 254.6,73.6 254.7,73.3 254.8,70.8 254.9,76.6 254.9,78.0 255.0,66.4 255.1,74.9 255.2,83.1 255.3,73.1 255.3,79.8 255.4,75.5 255.5,94.5 255.6,97.0 255.7,106.9 255.7,119.3 255.8,118.6 255.9,105.8 256.0,121.3 256.1,119.0 256.1,122.9 256.2,121.9 256.3,137.5 256.4,125.8 256.5,128.6 256.5,128.3 256.6,142.2 256.7,132.1 256.8,132.1 256.9,135.1 256.9,142.5 257.0,145.6 257.1,158.6 257.2,159.5 257.3,144.7 257.3,153.4 257.4,154.2 257.5,155.4 257.6,153.0 257.7,142.9 257.7,135.9 257.8,142.1 257.9,148.7 258.0,131.2 258.1,130.0 258.2,131.5 258.2,128.1 258.3,118.1 258.4,114.6 258.5,127.2 258.6,128.9 258.6,128.4 258.7,128.2 258.8,141.8 258.9,135.4 259.0,130.6 259.0,141.9 259.1,135.5 259.2,130.3 259.3,123.7 259.4,121.8 259.4,124.2 259.5,118.1 259.6,109.0 259.7,105.4 259.8,120.1 259.8,131.4 259.9,134.0 260.0,140.0 260.1,134.3 260.2,131.6 260.2,142.9 260.3,143.7 260.4,148.3 260.5,146.9 260.6,150.9 260.6,146.6 260.7,149.1 260.8,146.5 260.9,145.5 261.0,133.8 261.0,130.7 261.1,130.5 261.2,143.3 261.3,142.6 261.4,147.3 261.4,149.3 261.5,135.3 261.6,136.8 261.7,138.8 261.8,143.6 261.8,145.5 261.9,141.1 262.0,148.4 262.1,153.8 262.2,147.8 262.2,146.1 262.3,138.4 262.4,147.2 262.5,147.1 262.6,154.8 262.6,141.9 262.7,148.3 262.8,142.9 262.9,156.1 263.0,146.3 263.0,145.7 263.1,158.6 263.2,155.5 263.3,151.9 263.4,145.9 263.4,154.2 263.5,135.8 263.6,140.1 263.7,124.7 263.8,128.4 263.9,123.5 263.9,122.9 264.0,110.0 264.1,101.9 264.2,104.2 264.3,105.3 264.3,107.7 264.4,103.4 264.5,105.9 264.6,107.0 264.7,99.4 264.7,98.9 264.8,104.6 264.9,103.2 265.0,107.5 265.1,104.2 265.1,105.4 265.2,109.5 265.3,116.8 265.4,107.2 265.5,114.2 265.5,119.6 265.6,126.8 265.7,135.3 265.8,129.7 265.9,120.6 265.9,112.5 266.0,118.3 266.1,116.1 266.2,114.1 266.3,115.1 266.3,117.2 266.4,112.9 266.5,118.3 266.6,122.4 266.7,135.4 266.7,137.3 266.8,135.1 266.9,136.6 267.0,129.8 267.1,122.0 267.1,110.3 267.2,113.5 267.3,119.4 267.4,108.2 267.5,102.2 267.5,113.6 267.6,124.6 267.7,128.8 267.8,128.3 267.9,128.1 267.9,121.0 268.0,112.8 268.1,109.2 268.2,115.1 268.3,119.8 268.3,120.3 268.4,115.2 268.5,130.6 268.6,134.5 268.7,123.9 268.7,132.4 268.8,130.2 268.9,137.3 269.0,135.9 269.1,138.2 269.1,136.8 269.2,143.8 269.3,128.0 269.4,135.1 269.5,131.8 269.5,129.8 269.6,137.2 269.7,133.4 269.8,134.5 269.9,133.3 270.0,130.7 270.0,125.1 270.1,126.9 270.2,131.1 270.3,123.1 270.4,122.3 270.4,112.2 270.5,111.1 270.6,108.7 270.7,108.3 270.8,118.3 270.8,113.3 270.9,112.2 271.0,102.6 271.1,108.9 271.2,94.8 271.2,104.8 271.3,99.4 271.4,94.8 271.5,111.8 271.6,113.4 271.6,122.1 271.7,133.3 271.8,140.1 271.9,139.2 272.0,139.4 272.0,137.4 272.1,131.3 272.2,126.9 272.3,123.3 272.4,130.0 272.4,121.8 272.5,124.6 272.6,116.2 272.7,110.5 272.8,109.7 272.8,114.5 272.9,111.1 273.0,110.0 273.1,104.7 273.2,112.1 273.2,104.8 273.3,104.9 273.4,115.0 273.5,113.9 273.6,109.9 273.6,115.9 273.7,113.1 273.8,109.0 273.9,110.7 274.0,107.3 274.0,109.6 274.1,98.4 274.2,106.7 274.3,109.1 274.4,117.6 274.4,104.4 274.5,103.1 274.6,100.6 274.7,102.2 274.8,104.2 274.8,110.7 274.9,104.8 275.0,109.8 275.1,103.7 275.2,102.3 275.2,102.0 275.3,104.2 275.4,108.4 275.5,108.3 275.6,95.8 275.7,85.4 275.7,92.1 275.8,95.1 275.9,86.4 276.0,95.4 276.1,98.1 276.1,102.6 276.2,110.9 276.3,116.7 276.4,124.2 276.5,121.4 276.5,128.3 276.6,123.9 276.7,110.3 276.8,107.1 276.9,98.0 276.9,106.9 277.0,100.8 277.1,97.3 277.2,93.8 277.3,107.6 277.3,113.7 277.4,102.7 277.5,106.5 277.6,99.6 277.7,103.9 277.7,101.9 277.8,124.1 277.9,123.0 278.0,123.0 278.1,115.1 278.1,104.8 278.2,111.5 278.3,104.6 278.4,106.7 278.5,108.6 278.5,114.1 278.6,118.2 278.7,110.9 278.8,113.4 278.9,107.5 278.9,105.7 279.0,106.7 279.1,92.3 279.2,100.8 279.3,120.8 279.3,118.2 279.4,121.4 279.5,126.7 279.6,119.3 279.7,120.3 279.7,122.0 279.8,141.4 279.9,136.9 280.0,135.7 280.1,133.0 280.1,127.6 280.2,125.9 280.3,118.7 280.4,118.0 280.5,116.1 280.5,128.6 280.6,132.9 280.7,124.4 280.8,120.3 280.9,120.1 280.9,112.6 281.0,125.7 281.1,123.6 281.2,119.2 281.3,115.4 281.3,110.4 281.4,111.0 281.5,121.8 281.6,112.5 281.7,117.1 281.8,117.5 281.8,116.9 281.9,119.5 282.0,115.0 282.1,108.1 282.2,118.4 282.2,117.2 282.3,119.3 282.4,113.8 282.5,130.7 282.6,130.1 282.6,132.3 282.7,116.2 282.8,111.8 282.9,109.5 283.0,107.6 283.0,111.6 283.1,107.5 283.2,118.2 283.3,122.3 283.4,105.1 283.4,102.6 283.5,106.6 283.6,97.1 283.7,89.6 283.8,98.3 283.8,105.8 283.9,101.5 284.0,96.6 284.1,81.7 284.2,87.2 284.2,81.4 284.3,81.9 284.4,82.9 284.5,89.2 284.6,82.7 284.6,84.9 284.7,102.6 284.8,105.5 284.9,96.9 285.0,96.5 285.0,107.3 285.1,115.0 285.2,113.9 285.3,140.6 285.4,128.2 285.4,123.6 285.5,137.7 285.6,127.5 285.7,140.7 285.8,125.1 285.8,120.9 285.9,114.3 286.0,114.3 286.1,105.4 286.2,103.2 286.2,111.8 286.3,119.0 286.4,118.7 286.5,116.9 286.6,109.9 286.6,114.2 286.7,111.2 286.8,113.2 286.9,105.3 287.0,99.1 287.0,107.0 287.1,100.5 287.2,86.8 287.3,88.0 287.4,103.6 287.5,97.1 287.5,107.6 287.6,94.2 287.7,94.8 287.8,88.9 287.9,96.1 287.9,94.6 288.0,88.0 288.1,82.8 288.2,84.1 288.3,83.0 288.3,81.4 288.4,82.5 288.5,89.4 288.6,96.4 288.7,89.9 288.7,96.0 288.8,98.3 288.9,114.5 289.0,113.1 289.1,110.9 289.1,124.1 289.2,134.1 289.3,142.7 289.4,144.7 289.5,149.8 289.5,156.7 289.6,157.1 289.7,155.4 289.8,155.2 289.9,151.8 289.9,148.9 290.0,141.1 290.1,138.7 290.2,127.8 290.3,125.0 290.3,123.9 290.4,110.0 290.5,102.6 290.6,108.0 290.7,100.9 290.7,104.5 290.8,101.9 290.9,101.6 291.0,104.6 291.1,97.7 291.1,109.1 291.2,99.5 291.3,111.4 291.4,95.3 291.5,98.4 291.5,98.6 291.6,99.8 291.7,95.1 291.8,91.4 291.9,89.1 291.9,89.2 292.0,95.6 292.1,90.7 292.2,88.7 292.3,85.2 292.3,86.2 292.4,81.4 292.5,78.9 292.6,85.7 292.7,78.6 292.7,82.9 292.8,85.4 292.9,78.0 293.0,75.8 293.1,75.1 293.1,75.1 293.2,76.0 293.3,75.5 293.4,76.9 293.5,79.0 293.6,81.4 293.6,86.8 293.7,82.2 293.8,89.6 293.9,80.5 294.0,88.8 294.0,92.9 294.1,85.5 294.2,81.3 294.3,80.2 294.4,80.6 294.4,80.1 294.5,80.1 294.6,79.1 294.7,80.1 294.8,83.1 294.8,97.9 294.9,101.4 295.0,104.6 295.1,101.7 295.2,106.3 295.2,105.0 295.3,106.2 295.4,102.3 295.5,106.3 295.6,112.3 295.6,99.8 295.7,101.6 295.8,99.1 295.9,90.6 296.0,98.3 296.0,94.6 296.1,110.8 296.2,114.5 296.3,114.7 296.4,115.9 296.4,118.0 296.5,114.9 296.6,124.3 296.7,125.4 296.8,128.7 296.8,127.9 296.9,125.2 297.0,130.0 297.1,128.8 297.2,133.9 297.2,139.8 297.3,134.0 297.4,126.8 297.5,138.1 297.6,135.2 297.6,135.1 297.7,132.0 297.8,122.7 297.9,130.1 298.0,138.9 298.0,142.3 298.1,146.0 298.2,146.5 298.3,145.1 298.4,147.2 298.4,145.9 298.5,142.2 298.6,143.3 298.7,136.7 298.8,138.9 298.8,137.1 298.9,134.3 299.0,132.5 299.1,116.9 299.2,120.5 299.3,120.7 299.3,117.4 299.4,104.3 299.5,90.7 299.6,93.5 299.7,81.8 299.7,85.1 299.8,92.4 299.9,102.9 300.0,95.9 300.1,81.5 300.1,80.7 300.2,79.4 300.3,78.2 300.4,80.3 300.5,91.4 300.5,90.6 300.6,88.5 300.7,94.1 300.8,97.6 300.9,96.1 300.9,102.1 301.0,105.3 301.1,103.7 301.2,102.1 301.3,103.2 301.3,100.6 301.4,96.1 301.5,101.2 301.6,108.4 301.7,108.0 301.7,124.0 301.8,132.7 301.9,113.8 302.0,110.1 302.1,115.8 302.1,119.7 302.2,125.4 302.3,116.6 302.4,118.6 302.5,124.0 302.5,122.0 302.6,119.3 302.7,115.5 302.8,119.8 302.9,109.5 302.9,115.0 303.0,120.2 303.1,123.5 303.2,123.9 303.3,121.2 303.3,116.8 303.4,125.3 303.5,132.3 303.6,130.6 303.7,128.2 303.7,121.7 303.8,116.0 303.9,116.1 304.0,118.0 304.1,105.4 304.1,112.3 304.2,105.2 304.3,100.2 304.4,107.1 304.5,91.6 304.5,95.3 304.6,90.8 304.7,85.9 304.8,83.9 304.9,88.9 304.9,88.6 305.0,97.6 305.1,87.4 305.2,99.0 305.3,90.0 305.4,100.0 305.4,90.0 305.5,86.5 305.6,91.5 305.7,91.9 305.8,94.8 305.8,100.5 305.9,114.6 306.0,105.0 306.1,108.5 306.2,110.3 306.2,105.1 306.3,101.5 306.4,97.0 306.5,91.5 306.6,89.6 306.6,84.3 306.7,83.4 306.8,84.1 306.9,99.1 307.0,104.0 307.0,106.1 307.1,98.7 307.2,107.0 307.3,111.1 307.4,109.8 307.4,109.2 307.5,104.9 307.6,108.0 307.7,113.8 307.8,101.0 307.8,104.6 307.9,113.9 308.0,108.9 308.1,115.8 308.2,119.6 308.2,110.6 308.3,111.8 308.4,111.4 308.5,112.0 308.6,110.0 308.6,118.7 308.7,123.1 308.8,113.3 308.9,120.3 309.0,113.2 309.0,116.7 309.1,117.1 309.2,119.9 309.3,108.9 309.4,111.3 309.4,109.7 309.5,118.4 309.6,117.9 309.7,112.9 309.8,103.5 309.8,110.1 309.9,104.5 310.0,108.8 310.1,115.1 310.2,125.8 310.2,118.5 310.3,131.1 310.4,127.5 310.5,118.5 310.6,131.7 310.6,128.8 310.7,134.4 310.8,134.9 310.9,139.7 311.0,135.9 311.1,129.2 311.1,132.4 311.2,129.2 311.3,123.5 311.4,116.0 311.5,116.7 311.5,121.5 311.6,121.6 311.7,120.9 311.8,108.2 311.9,117.7 311.9,113.5 312.0,110.8 312.1,107.5 312.2,109.3 312.3,109.0 312.3,105.9 312.4,107.7 312.5,103.3 312.6,90.7 312.7,86.6 312.7,100.5 312.8,107.5 312.9,106.0 313.0,101.7 313.1,107.7 313.1,112.2 313.2,108.8 313.3,85.0 313.4,88.8 313.5,94.6 313.5,95.7 313.6,113.5 313.7,110.3 313.8,100.8 313.9,103.2 313.9,98.6 314.0,94.5 314.1,91.1 314.2,93.6 314.3,100.3 314.3,96.2 314.4,103.9 314.5,101.6 314.6,102.8 314.7,108.7 314.7,91.8 314.8,94.8 314.9,89.6 315.0,90.5 315.1,95.4 315.1,106.6 315.2,107.4 315.3,108.0 315.4,110.3 315.5,113.5 315.5,127.1 315.6,125.8 315.7,129.3 315.8,129.9 315.9,133.2 315.9,134.4 316.0,139.8 316.1,134.9 316.2,141.6 316.3,136.8 316.3,136.7 316.4,130.3 316.5,143.3 316.6,141.1 316.7,145.0 316.7,138.2 316.8,136.3 316.9,138.8 317.0,130.7 317.1,128.8 317.2,116.8 317.2,127.6 317.3,139.3 317.4,142.7 317.5,135.5 317.6,132.4 317.6,124.4 317.7,131.8 317.8,126.0 317.9,132.5 318.0,139.5 318.0,137.3 318.1,134.9 318.2,134.6 318.3,134.8 318.4,136.6 318.4,140.5 318.5,133.9 318.6,126.8 318.7,119.5 318.8,124.2 318.8,103.8 318.9,109.2 319.0,117.0 319.1,128.1 319.2,136.0 319.2,135.5 319.3,139.2 319.4,136.7 319.5,126.1 319.6,132.1 319.6,134.1 319.7,124.6 319.8,128.6 319.9,116.0 320.0,121.6 320.0,122.5 320.1,116.7 320.2,114.0 320.3,113.1 320.4,112.2 320.4,116.5 320.5,120.3 320.6,122.5 320.7,102.1 320.8,107.4 320.8,110.7 320.9,108.7 321.0,106.2 321.1,106.7 321.2,116.5 321.2,119.2 321.3,113.0 321.4,106.1 321.5,109.0 321.6,111.6 321.6,104.8 321.7,114.5 321.8,120.0 321.9,111.4 322.0,114.4 322.0,125.9 322.1,130.4 322.2,141.0 322.3,140.7 322.4,125.3 322.4,124.7 322.5,118.0 322.6,124.3 322.7,123.6 322.8,114.9 322.9,109.5 322.9,97.0 323.0,92.0 323.1,84.8 323.2,83.8 323.3,90.3 323.3,101.3 323.4,100.5 323.5,99.1 323.6,97.7 323.7,100.9 323.7,97.5 323.8,83.5 323.9,92.0 324.0,84.6 324.1,84.2 324.1,85.1 324.2,86.8 324.3,95.2 324.4,89.2 324.5,85.8 324.5,93.5 324.6,87.0 324.7,97.8 324.8,100.9 324.9,101.9 324.9,92.6 325.0,85.5 325.1,91.9 325.2,85.4 325.3,73.8 325.3,73.4 325.4,69.8 325.5,68.1 325.6,65.5 325.7,65.2 325.7,62.1 325.8,66.4 325.9,74.5 326.0,73.3 326.1,76.4 326.1,86.6 326.2,91.3 326.3,99.4 326.4,100.8 326.5,122.1 326.5,127.0 326.6,126.8 326.7,124.2 326.8,124.3 326.9,129.4 326.9,142.8 327.0,139.7 327.1,144.7 327.2,147.3 327.3,145.7 327.3,148.9 327.4,143.1 327.5,148.7 327.6,144.1 327.7,143.0 327.7,138.8 327.8,138.4 327.9,139.5 328.0,142.9 328.1,134.8 328.1,136.1 328.2,140.2 328.3,150.9 328.4,151.1 328.5,150.9 328.5,149.9 328.6,143.0 328.7,133.6 328.8,128.1 328.9,131.4 329.0,125.5 329.0,126.3 329.1,123.0 329.2,120.2 329.3,121.1 329.4,123.7 329.4,129.9 329.5,142.9 329.6,128.4 329.7,130.7 329.8,135.3 329.8,138.6 329.9,138.0 330.0,131.3 330.1,126.2 330.2,115.9 330.2,115.9 330.3,132.8 330.4,116.9 330.5,118.1 330.6,119.6 330.6,112.7 330.7,118.2 330.8,120.4 330.9,117.5 331.0,124.4 331.0,132.6 331.1,121.7 331.2,125.1 331.3,113.0 331.4,115.5 331.4,120.3 331.5,125.1 331.6,126.3 331.7,118.6 331.8,125.3 331.8,120.7 331.9,118.2 332.0,117.8 332.1,131.4 332.2,130.8 332.2,130.6 332.3,130.3 332.4,141.7 332.5,150.5 332.6,146.8 332.6,138.2 332.7,138.4 332.8,138.1 332.9,135.6 333.0,134.9 333.0,136.1 333.1,136.1 333.2,136.6 333.3,137.3 333.4,136.0 333.4,127.5 333.5,125.3 333.6,118.9 333.7,109.9 333.8,109.1 333.8,124.3 333.9,116.4 334.0,119.0 334.1,109.3 334.2,114.8 334.2,105.6 334.3,110.4 334.4,118.3 334.5,121.9 334.6,137.4 334.7,132.5 334.7,125.8 334.8,130.4 334.9,132.6 335.0,144.2 335.1,160.2 335.1,162.0 335.2,160.2 335.3,160.0 335.4,161.5 335.5,159.8 335.5,145.9 335.6,149.2 335.7,155.0 335.8,154.7 335.9,145.8 335.9,154.0 336.0,155.9 336.1,148.7 336.2,148.3 336.3,142.4 336.3,126.7 336.4,121.3 336.5,130.3 336.6,127.7 336.7,121.4 336.7,106.2 336.8,101.2 336.9,102.0 337.0,103.1 337.1,121.0 337.1,121.5 337.2,126.2 337.3,126.7 337.4,128.4 337.5,124.5 337.5,117.2 337.6,124.0 337.7,115.1 337.8,112.5 337.9,113.7 337.9,111.8 338.0,122.2 338.1,116.3 338.2,118.1 338.3,128.9 338.3,129.4 338.4,123.7 338.5,117.0 338.6,122.0 338.7,135.3 338.7,133.5 338.8,132.8 338.9,124.3 339.0,114.2 339.1,109.7 339.1,120.4 339.2,120.6 339.3,117.0 339.4,118.7 339.5,123.0 339.5,117.6 339.6,121.1 339.7,116.4 339.8,105.9 339.9,109.4 339.9,108.1 340.0,101.0 340.1,99.3 340.2,95.8 340.3,92.3 340.3,90.6 340.4,90.2 340.5,95.3 340.6,91.2 340.7,92.9 340.8,90.7 340.8,94.5 340.9,98.3 341.0,105.7 341.1,100.6 341.2,99.6 341.2,92.4 341.3,87.4 341.4,98.2 341.5,106.2 341.6,121.6 341.6,115.1 341.7,111.2 341.8,120.3 341.9,119.6 342.0,115.9 342.0,117.2 342.1,133.2 342.2,140.7 342.3,149.4 342.4,141.1 342.4,141.9 342.5,142.8 342.6,141.0 342.7,137.0 342.8,141.1 342.8,133.5 342.9,131.7 343.0,134.8 343.1,143.1 343.2,144.8 343.2,150.2 343.3,146.6 343.4,144.7 343.5,136.6 343.6,146.0 343.6,137.8 343.7,131.7 343.8,134.3 343.9,133.1 344.0,134.1 344.0,139.2 344.1,143.0 344.2,137.7 344.3,132.7 344.4,126.2 344.4,130.2 344.5,131.9 344.6,137.0 344.7,133.9 344.8,128.0 344.8,129.1 344.9,124.8 345.0,118.9 345.1,103.4 345.2,111.7 345.2,115.2 345.3,104.4 345.4,106.0 345.5,103.0 345.6,104.6 345.6,105.4 345.7,109.5 345.8,96.4 345.9,103.7 346.0,110.6 346.0,109.0 346.1,107.5 346.2,125.4 346.3,132.0 346.4,135.8 346.5,129.2 346.5,128.9 346.6,136.0 346.7,134.2 346.8,138.7 346.9,130.8 346.9,142.9 347.0,134.6 347.1,120.1 347.2,133.2 347.3,130.8 347.3,138.5 347.4,136.4 347.5,129.0 347.6,128.3 347.7,134.3 347.7,127.8 347.8,125.3 347.9,132.6 348.0,134.2 348.1,130.2 348.1,128.1 348.2,113.4 348.3,109.6 348.4,106.9 348.5,106.0 348.5,99.7 348.6,92.6 348.7,91.7 348.8,88.4 348.9,83.3 348.9,76.4 349.0,76.2 349.1,75.4 349.2,76.4 349.3,76.4 349.3,76.1 349.4,87.1 349.5,85.6 349.6,90.9 349.7,94.8 349.7,100.6 349.8,97.5 349.9,94.9 350.0,93.8 350.1,99.6 350.1,92.4 350.2,109.1 350.3,114.1 350.4,112.7 350.5,128.4 350.5,128.1 350.6,126.4 350.7,125.6 350.8,112.7 350.9,105.1 350.9,122.9 351.0,124.4 351.1,132.7 351.2,133.5 351.3,134.9 351.3,140.6 351.4,143.3 351.5,129.6 351.6,126.2 351.7,139.8 351.7,129.8 351.8,119.9 351.9,125.0 352.0,117.5 352.1,130.1 352.1,128.0 352.2,132.6 352.3,145.6 352.4,136.6 352.5,136.3 352.6,136.4 352.6,145.8 352.7,135.3 352.8,124.9 352.9,115.5 353.0,109.3 353.0,115.6 353.1,121.8 353.2,111.7 353.3,106.0 353.4,109.0 353.4,117.8 353.5,118.0 353.6,115.4 353.7,118.4 353.8,110.8 353.8,114.2 353.9,115.0 354.0,106.3 354.1,106.4 354.2,113.1 354.2,121.2 354.3,109.1 354.4,109.2 354.5,112.7 354.6,113.4 354.6,105.9 354.7,104.5 354.8,102.4 354.9,115.0 355.0,120.6 355.0,117.9 355.1,115.3 355.2,122.4 355.3,124.6 355.4,120.9 355.4,132.6 355.5,127.6 355.6,115.7 355.7,109.8 355.8,115.8 355.8,111.0 355.9,127.1 356.0,125.0 356.1,120.4 356.2,124.7 356.2,119.5 356.3,116.0 356.4,114.6 356.5,113.6 356.6,108.6 356.6,109.5 356.7,114.1 356.8,106.9 356.9,105.4 357.0,103.3 357.0,118.6 357.1,114.6 357.2,115.3 357.3,122.1 357.4,124.0 357.4,122.3 357.5,129.6 357.6,122.3 357.7,132.5 357.8,121.1 357.8,128.3 357.9,129.4 358.0,128.8 358.1,129.4 358.2,138.1 358.3,141.1 358.3,151.4 358.4,151.7 358.5,154.2 358.6,155.5 358.7,156.1 358.7,156.1 358.8,152.6 358.9,139.4 359.0,143.2 359.1,150.8 359.1,152.2 359.2,141.9 359.3,144.6 359.4,143.6 359.5,147.3 359.5,143.7 359.6,151.8 359.7,150.0 359.8,138.9 359.9,149.3 359.9,151.2 360.0,152.0 360.1,144.3 360.2,130.6 360.3,137.0 360.3,126.3 360.4,131.7 360.5,116.4 360.6,112.0 360.7,105.9 360.7,107.8 360.8,108.0 360.9,105.0 361.0,101.5 361.1,101.7 361.1,100.1 361.2,94.5 361.3,94.0 361.4,94.0 361.5,87.3 361.5,89.7 361.6,89.0 361.7,92.1 361.8,94.7 361.9,84.0 361.9,84.4 362.0,82.5 362.1,87.4 362.2,88.0 362.3,87.1 362.3,94.9 362.4,99.6 362.5,95.6 362.6,99.7 362.7,88.4 362.7,93.5 362.8,101.5 362.9,108.2 363.0,100.9 363.1,104.8 363.1,103.5 363.2,99.2 363.3,104.8 363.4,104.8 363.5,94.4 363.5,121.0 363.6,116.7 363.7,106.7 363.8,111.2 363.9,112.7 363.9,115.9 364.0,124.7 364.1,137.3 364.2,129.6 364.3,138.8 364.4,134.1 364.4,131.1 364.5,127.3 364.6,134.4 364.7,129.8 364.8,130.7 364.8,132.4 364.9,132.9 365.0,149.9 365.1,147.6 365.2,145.7 365.2,135.1 365.3,122.8 365.4,113.3 365.5,104.2 365.6,106.4 365.6,119.7 365.7,123.5 365.8,121.6 365.9,122.7 366.0,118.3 366.0,116.0 366.1,106.0 366.2,106.5 366.3,104.4 366.4,99.9 366.4,93.5 366.5,104.0 366.6,115.1 366.7,110.2 366.8,115.2 366.8,114.7 366.9,114.0 367.0,114.5 367.1,103.8 367.2,102.6 367.2,97.4 367.3,99.4 367.4,104.2 367.5,109.3 367.6,111.7 367.6,109.2 367.7,94.8 367.8,104.7 367.9,107.7 368.0,101.9 368.0,101.3 368.1,100.8 368.2,106.1 368.3,94.0 368.4,98.2 368.4,105.3 368.5,103.4 368.6,114.2 368.7,116.6 368.8,123.6 368.8,126.0 368.9,131.3 369.0,138.0 369.1,144.2 369.2,134.4 369.2,131.1 369.3,132.5 369.4,124.1 369.5,119.9 369.6,114.4 369.6,115.2 369.7,104.7 369.8,98.7 369.9,84.3 370.0,73.2 370.1,72.3 370.1,71.1 370.2,70.5 370.3,67.3 370.4,70.4 370.5,73.0 370.5,70.6 370.6,69.5 370.7,84.2 370.8,84.0 370.9,92.9 370.9,104.2 371.0,102.1 371.1,101.7 371.2,105.1 371.3,125.8 371.3,114.3 371.4,112.0 371.5,107.7 371.6,97.7 371.7,110.3 371.7,102.9 371.8,100.6 371.9,99.2 372.0,108.0 372.1,105.9 372.1,110.7 372.2,96.6 372.3,93.2 372.4,111.3 372.5,106.1 372.5,111.1 372.6,109.0 372.7,106.7 372.8,103.1 372.9,99.1 372.9,95.2 373.0,96.6 373.1,100.0 373.2,97.9 373.3,96.5 373.3,98.0 373.4,103.7 373.5,100.8 373.6,93.1 373.7,103.9 373.7,107.0 373.8,102.2 373.9,116.0 374.0,110.9 374.1,108.2 374.1,117.5 374.2,118.7 374.3,106.0 374.4,118.8 374.5,125.5 374.5,133.1 374.6,125.5 374.7,121.7 374.8,114.2 374.9,128.6 374.9,123.8 375.0,125.0 375.1,126.6 375.2,133.8 375.3,128.7 375.3,132.3 375.4,118.6 375.5,111.2 375.6,127.0 375.7,118.6 375.7,120.1 375.8,117.4 375.9,109.8 376.0,104.8 376.1,108.6 376.2,108.5 376.2,105.9 376.3,107.6 376.4,110.9 376.5,109.7 376.6,107.9 376.6,102.9 376.7,94.8 376.8,99.8 376.9,108.5 377.0,101.3 377.0,103.1 377.1,97.0 377.2,93.8 377.3,102.3 377.4,103.0 377.4,108.7 377.5,118.0 377.6,117.2 377.7,116.4 377.8,114.8 377.8,118.1 377.9,130.4 378.0,133.7 378.1,141.0 378.2,140.8 378.2,136.9 378.3,136.9 378.4,142.5 378.5,145.9 378.6,145.5 378.6,143.1 378.7,137.3 378.8,132.4 378.9,131.7 379.0,141.2 379.0,144.9 379.1,150.4 379.2,140.6 379.3,140.9 379.4,146.1 379.4,150.9 379.5,151.7 379.6,153.9 379.7,152.4 379.8,153.7 379.8,155.4 379.9,156.7 380.0,156.8 380.1,153.6 380.2,152.9 380.2,150.4 380.3,147.4 380.4,150.7 380.5,141.4 380.6,150.1 380.6,142.6 380.7,141.6 380.8,132.6 380.9,131.0 381.0,124.3 381.0,123.3 381.1,122.9 381.2,112.9 381.3,113.0 381.4,124.0 381.4,118.0 381.5,112.2 381.6,108.7 381.7,107.4 381.8,108.8 381.9,110.7 381.9,119.6 382.0,120.4 382.1,142.5 382.2,132.6 382.3,136.1 382.3,140.1 382.4,126.6 382.5,131.6 382.6,120.3 382.7,125.5 382.7,141.8 382.8,144.8 382.9,149.6 383.0,143.6 383.1,142.8 383.1,147.5 383.2,147.0 383.3,140.6 383.4,144.9 383.5,148.3 383.5,143.1 383.6,138.3 383.7,142.6 383.8,141.6 383.9,141.0 383.9,140.6 384.0,135.0 384.1,125.7 384.2,127.2 384.3,123.9 384.3,125.9 384.4,126.8 384.5,132.9 384.6,130.3 384.7,116.9 384.7,117.6 384.8,116.3 384.9,118.8 385.0,110.6 385.1,111.3 385.1,102.6 385.2,105.2 385.3,107.7 385.4,102.8 385.5,89.2 385.5,97.0 385.6,102.6 385.7,97.8 385.8,88.6 385.9,84.4 385.9,88.3 386.0,82.4 386.1,81.4 386.2,82.3 386.3,83.6 386.3,91.4 386.4,106.2 386.5,93.9 386.6,98.3 386.7,94.7 386.7,94.9 386.8,100.3 386.9,103.7 387.0,114.1 387.1,110.7 387.1,116.3 387.2,100.9 387.3,104.8 387.4,108.8 387.5,95.1 387.5,101.6 387.6,103.3 387.7,103.9 387.8,113.0 387.9,100.4 388.0,100.7 388.0,95.1 388.1,99.4 388.2,93.3 388.3,90.5 388.4,99.3 388.4,93.6 388.5,104.5 388.6,108.0 388.7,106.8 388.8,120.8 388.8,125.1 388.9,120.6 389.0,114.8 389.1,116.2 389.2,125.6 389.2,121.3 389.3,123.0 389.4,136.4 389.5,124.8 389.6,117.0 389.6,116.4 389.7,111.6 389.8,110.8 389.9,108.1 390.0,114.2 390.0,107.5 390.1,110.0 390.2,113.3 390.3,116.2 390.4,120.1 390.4,114.9 390.5,122.8 390.6,113.1 390.7,106.8 390.8,92.5 390.8,97.8 390.9,102.3 391.0,110.8 391.1,112.2 391.2,111.7 391.2,111.4 391.3,104.7 391.4,115.4 391.5,111.7 391.6,120.3 391.6,119.5 391.7,118.1 391.8,126.5 391.9,139.3 392.0,131.0 392.0,128.8 392.1,121.0 392.2,128.4 392.3,115.2 392.4,115.0 392.4,122.6 392.5,106.2 392.6,126.8 392.7,118.1 392.8,114.9 392.8,113.2 392.9,124.1 393.0,121.4 393.1,121.2 393.2,115.9 393.2,118.6 393.3,119.9 393.4,120.4 393.5,127.4 393.6,122.5 393.7,115.7 393.7,106.7 393.8,103.9 393.9,99.0 394.0,83.3 394.1,79.8 394.1,72.9 394.2,70.7 394.3,66.1 394.4,68.5 394.5,69.4 394.5,71.4 394.6,70.8 394.7,74.3 394.8,72.3 394.9,73.7 394.9,80.2 395.0,81.9 395.1,85.1 395.2,102.1 395.3,105.5 395.3,109.6 395.4,117.0 395.5,123.4 395.6,126.4 395.7,127.4 395.7,124.7 395.8,129.3 395.9,123.1 396.0,121.8 396.1,132.4 396.1,132.3 396.2,130.5 396.3,142.6 396.4,135.7 396.5,119.0 396.5,128.4 396.6,124.1 396.7,123.9 396.8,115.2 396.9,129.5 396.9,133.8 397.0,128.7 397.1,128.6 397.2,136.0 397.3,146.3 397.3,153.9 397.4,154.7 397.5,157.3 397.6,157.1 397.7,158.4 397.7,161.0 397.8,160.2 397.9,153.9 398.0,154.8 398.1,151.8 398.1,150.1 398.2,159.1 398.3,165.8 398.4,164.5 398.5,165.8 398.5,165.2 398.6,157.6 398.7,158.2 398.8,156.0 398.9,152.0 398.9,147.9 399.0,142.2 399.1,147.2 399.2,152.6 399.3,145.9 399.3,138.9 399.4,140.0 399.5,135.8 399.6,136.1 399.7,143.9 399.8,142.2 399.8,150.5 399.9,133.0 400.0,127.5 400.1,142.5 400.2,142.9 400.2,138.7 400.3,134.8 400.4,141.0 400.5,151.1 400.6,149.5 400.6,140.8 400.7,137.0 400.8,138.9 400.9,131.2 401.0,134.4 401.0,147.3 401.1,142.0 401.2,141.8 401.3,141.7 401.4,144.3 401.4,147.4 401.5,141.4 401.6,125.3 401.7,132.2 401.8,120.7 401.8,117.1 401.9,117.9 402.0,116.1 402.1,122.3 402.2,113.7 402.2,120.6 402.3,133.1 402.4,133.5 402.5,122.2 402.6,119.8 402.6,118.1 402.7,119.8 402.8,118.0 402.9,122.4 403.0,127.3 403.0,125.4 403.1,121.0 403.2,118.6 403.3,132.8 403.4,134.2 403.4,127.7 403.5,132.3 403.6,120.6 403.7,129.7 403.8,131.8 403.8,133.1 403.9,130.2 404.0,123.4 404.1,124.3 404.2,109.2 404.2,108.9 404.3,114.2 404.4,96.1 404.5,112.9 404.6,106.9 404.6,105.7 404.7,115.2 404.8,114.3 404.9,103.2 405.0,109.1 405.0,111.1 405.1,113.6 405.2,111.6 405.3,113.1 405.4,118.1 405.5,118.3 405.5,124.2 405.6,127.1 405.7,119.9 405.8,121.2 405.9,106.2 405.9,110.2 406.0,104.1 406.1,91.0 406.2,93.4 406.3,103.8 406.3,99.0 406.4,109.1 406.5,101.4 406.6,94.5 406.7,98.3 406.7,98.9 406.8,97.7 406.9,94.7 407.0,91.4 407.1,95.2 407.1,91.2 407.2,88.9 407.3,88.4 407.4,89.8 407.5,96.8 407.5,97.7 407.6,100.3 407.7,95.3 407.8,97.9 407.9,102.9 407.9,103.1 408.0,103.2 408.1,87.0 408.2,94.7 408.3,95.6 408.3,90.2 408.4,84.5 408.5,85.7 408.6,94.1 408.7,88.2 408.7,89.2 408.8,84.9 408.9,83.3 409.0,79.3 409.1,79.6 409.1,79.0 409.2,78.4 409.3,77.2 409.4,86.1 409.5,83.8 409.5,94.7 409.6,88.5 409.7,92.3 409.8,84.0 409.9,71.5 409.9,71.5 410.0,72.0 410.1,73.0 410.2,82.9 410.3,86.8 410.3,98.0 410.4,97.4 410.5,88.2 410.6,96.8 410.7,102.9 410.7,108.9 410.8,108.1 410.9,112.0 411.0,112.3 411.1,116.0 411.1,114.5 411.2,114.4 411.3,112.8 411.4,107.5 411.5,107.5 411.6,116.3 411.6,113.6 411.7,115.4 411.8,112.3 411.9,102.3 412.0,111.1 412.0,101.2 412.1,100.2 412.2,115.9 412.3,100.2 412.4,109.0 412.4,112.4 412.5,120.9 412.6,117.6 412.7,111.2 412.8,105.0 412.8,101.9 412.9,101.8 413.0,92.9 413.1,95.5 413.2,88.5 413.2,83.0 413.3,94.0 413.4,87.5 413.5,86.0 413.6,99.2 413.6,111.3 413.7,109.6 413.8,111.1 413.9,115.4 414.0,105.2 414.0,113.9 414.1,131.3 414.2,129.4 414.3,116.7 414.4,110.0 414.4,112.1 414.5,122.1 414.6,125.3 414.7,134.4 414.8,134.5 414.8,118.1 414.9,130.8 415.0,122.7 415.1,111.3 415.2,107.0 415.2,107.2 415.3,104.1 415.4,97.0 415.5,98.3 415.6,100.9 415.6,96.1 415.7,100.2 415.8,93.5 415.9,85.3 416.0,79.9 416.0,82.4 416.1,81.6 416.2,88.3 416.3,88.9 416.4,95.7 416.4,92.2 416.5,94.9 416.6,105.6 416.7,99.4 416.8,99.7 416.8,97.2 416.9,91.6 417.0,93.9 417.1,94.2 417.2,97.8 417.3,96.1 417.3,91.6 417.4,98.4 417.5,99.1 417.6,104.6 417.7,101.2 417.7,97.8 417.8,97.5 417.9,99.9 418.0,104.0 418.1,100.8 418.1,107.9 418.2,106.4 418.3,116.4 418.4,118.8 418.5,121.6 418.5,133.1 418.6,126.3 418.7,132.9 418.8,128.6 418.9,126.1 418.9,132.6 419.0,126.8 419.1,123.0 419.2,126.5 419.3,114.0 419.3,104.2 419.4,119.8 419.5,110.9 419.6,102.5 419.7,93.5 419.7,86.9 419.8,82.3 419.9,81.3 420.0,74.8 420.1,88.8 420.1,97.4 420.2,106.0 420.3,93.2 420.4,95.5 420.5,107.3 420.5,114.0 420.6,118.5 420.7,126.2 420.8,134.3 420.9,139.2 420.9,144.3 421.0,144.0 421.1,142.0 421.2,143.3 421.3,144.9 421.3,141.4 421.4,136.8 421.5,133.1 421.6,124.9 421.7,128.3 421.7,119.9 421.8,117.1 421.9,119.2 422.0,104.9 422.1,107.5 422.1,112.0 422.2,105.7 422.3,98.1 422.4,105.9 422.5,104.4 422.5,107.9 422.6,115.0 422.7,116.7 422.8,116.0 422.9,125.9 422.9,120.9 423.0,119.4 423.1,117.4 423.2,116.5 423.3,119.5 423.4,117.5 423.4,123.2 423.5,126.6 423.6,123.5 423.7,128.1 423.8,137.3 423.8,129.2 423.9,135.8 424.0,140.6 424.1,139.7 424.2,138.3 424.2,150.6 424.3,143.3 424.4,146.3 424.5,150.8 424.6,142.6 424.6,137.1 424.7,131.6 424.8,138.1 424.9,130.1 425.0,134.7 425.0,146.2 425.1,147.0 425.2,138.0 425.3,137.6 425.4,125.7 425.4,119.5 425.5,109.8 425.6,114.6 425.7,103.8 425.8,106.4 425.8,110.5 425.9,104.9 426.0,102.2 426.1,96.5 426.2,98.1 426.2,97.9 426.3,101.8 426.4,104.6 426.5,118.5 426.6,121.9 426.6,118.0 426.7,114.6 426.8,123.5 426.9,142.2 427.0,135.8 427.0,137.6" fill="none" stroke="#2b3133" stroke-width="1.3" stroke-linejoin="round"/>
<path d="M444.0 66.5L446.1 66.5L446.2 67.0L446.4 67.5L446.5 68.0L446.7 68.5L446.8 69.0L447.0 69.5L447.2 70.0L447.4 70.5L447.6 71.0L447.8 71.5L448.0 72.0L448.3 72.5L448.6 73.0L448.8 73.5L449.1 74.0L449.4 74.5L449.8 75.0L450.1 75.5L450.5 76.0L450.9 76.5L451.3 77.0L451.7 77.5L452.1 78.0L452.6 78.5L453.1 79.0L453.6 79.5L454.1 80.0L454.7 80.5L455.2 81.0L455.8 81.5L456.5 82.0L457.1 82.5L457.8 83.0L458.5 83.5L459.2 84.0L460.0 84.5L460.7 85.0L461.6 85.5L462.4 86.0L463.2 86.5L464.1 87.0L465.0 87.5L466.0 88.0L466.9 88.5L467.9 89.0L468.9 89.5L469.9 90.0L471.0 90.5L472.1 91.0L473.2 91.5L474.3 92.0L475.4 92.5L476.6 93.0L477.8 93.5L479.0 94.0L480.2 94.5L481.4 95.0L482.6 95.5L483.9 96.0L485.1 96.5L486.4 97.0L487.7 97.5L488.9 98.0L490.2 98.5L491.5 99.0L492.8 99.5L494.0 100.0L495.3 100.5L496.6 101.0L497.8 101.5L499.1 102.0L500.3 102.5L501.5 103.0L502.7 103.5L503.9 104.0L505.0 104.5L506.2 105.0L507.3 105.5L508.3 106.0L509.4 106.5L510.4 107.0L511.3 107.5L512.3 108.0L513.2 108.5L514.0 109.0L514.8 109.5L515.6 110.0L516.3 110.5L517.0 111.0L517.6 111.5L518.2 112.0L518.7 112.5L519.1 113.0L519.5 113.5L519.9 114.0L520.2 114.5L520.4 115.0L520.6 115.5L520.7 116.0L520.8 116.5L520.8 117.0L520.7 117.5L520.6 118.0L520.5 118.5L520.2 119.0L520.0 119.5L519.6 120.0L519.2 120.5L518.8 121.0L518.3 121.5L517.7 122.0L517.1 122.5L516.4 123.0L515.7 123.5L515.0 124.0L514.2 124.5L513.3 125.0L512.5 125.5L511.5 126.0L510.6 126.5L509.6 127.0L508.5 127.5L507.5 128.0L506.4 128.5L505.3 129.0L504.1 129.5L502.9 130.0L501.8 130.5L500.6 131.0L499.3 131.5L498.1 132.0L496.8 132.5L495.6 133.0L494.3 133.5L493.0 134.0L491.8 134.5L490.5 135.0L489.2 135.5L487.9 136.0L486.6 136.5L485.4 137.0L484.1 137.5L482.9 138.0L481.6 138.5L480.4 139.0L479.2 139.5L478.0 140.0L476.8 140.5L475.7 141.0L474.5 141.5L473.4 142.0L472.3 142.5L471.2 143.0L470.1 143.5L469.1 144.0L468.1 144.5L467.1 145.0L466.1 145.5L465.2 146.0L464.3 146.5L463.4 147.0L462.5 147.5L461.7 148.0L460.9 148.5L460.1 149.0L459.4 149.5L458.6 150.0L457.9 150.5L457.3 151.0L456.6 151.5L456.0 152.0L455.4 152.5L454.8 153.0L454.2 153.5L453.7 154.0L453.2 154.5L452.7 155.0L452.2 155.5L451.8 156.0L451.3 156.5L450.9 157.0L450.6 157.5L450.2 158.0L449.8 158.5L449.5 159.0L449.2 159.5L448.9 160.0L448.6 160.5L448.3 161.0L448.1 161.5L447.9 162.0L447.6 162.5L447.4 163.0L447.2 163.5L447.0 164.0L446.9 164.5L446.7 165.0L446.5 165.5L446.4 166.0L446.2 166.5L446.1 167.0L444.0 167.0Z" fill="#353b3d"/>
<clipPath id="hc"><path d="M444.0 66.5L446.1 66.5L446.2 67.0L446.4 67.5L446.5 68.0L446.7 68.5L446.8 69.0L447.0 69.5L447.2 70.0L447.4 70.5L447.6 71.0L447.8 71.5L448.0 72.0L448.3 72.5L448.6 73.0L448.8 73.5L449.1 74.0L449.4 74.5L449.8 75.0L450.1 75.5L450.5 76.0L450.9 76.5L451.3 77.0L451.7 77.5L452.1 78.0L452.6 78.5L453.1 79.0L453.6 79.5L454.1 80.0L454.7 80.5L455.2 81.0L455.8 81.5L456.5 82.0L457.1 82.5L457.8 83.0L458.5 83.5L459.2 84.0L460.0 84.5L460.7 85.0L461.6 85.5L462.4 86.0L463.2 86.5L464.1 87.0L465.0 87.5L466.0 88.0L466.9 88.5L467.9 89.0L468.9 89.5L469.9 90.0L471.0 90.5L472.1 91.0L473.2 91.5L474.3 92.0L475.4 92.5L476.6 93.0L477.8 93.5L479.0 94.0L480.2 94.5L481.4 95.0L482.6 95.5L483.9 96.0L485.1 96.5L486.4 97.0L487.7 97.5L488.9 98.0L490.2 98.5L491.5 99.0L492.8 99.5L494.0 100.0L495.3 100.5L496.6 101.0L497.8 101.5L499.1 102.0L500.3 102.5L501.5 103.0L502.7 103.5L503.9 104.0L505.0 104.5L506.2 105.0L507.3 105.5L508.3 106.0L509.4 106.5L510.4 107.0L511.3 107.5L512.3 108.0L513.2 108.5L514.0 109.0L514.8 109.5L515.6 110.0L516.3 110.5L517.0 111.0L517.6 111.5L518.2 112.0L518.7 112.5L519.1 113.0L519.5 113.5L519.9 114.0L520.2 114.5L520.4 115.0L520.6 115.5L520.7 116.0L520.8 116.5L520.8 117.0L520.7 117.5L520.6 118.0L520.5 118.5L520.2 119.0L520.0 119.5L519.6 120.0L519.2 120.5L518.8 121.0L518.3 121.5L517.7 122.0L517.1 122.5L516.4 123.0L515.7 123.5L515.0 124.0L514.2 124.5L513.3 125.0L512.5 125.5L511.5 126.0L510.6 126.5L509.6 127.0L508.5 127.5L507.5 128.0L506.4 128.5L505.3 129.0L504.1 129.5L502.9 130.0L501.8 130.5L500.6 131.0L499.3 131.5L498.1 132.0L496.8 132.5L495.6 133.0L494.3 133.5L493.0 134.0L491.8 134.5L490.5 135.0L489.2 135.5L487.9 136.0L486.6 136.5L485.4 137.0L484.1 137.5L482.9 138.0L481.6 138.5L480.4 139.0L479.2 139.5L478.0 140.0L476.8 140.5L475.7 141.0L474.5 141.5L473.4 142.0L472.3 142.5L471.2 143.0L470.1 143.5L469.1 144.0L468.1 144.5L467.1 145.0L466.1 145.5L465.2 146.0L464.3 146.5L463.4 147.0L462.5 147.5L461.7 148.0L460.9 148.5L460.1 149.0L459.4 149.5L458.6 150.0L457.9 150.5L457.3 151.0L456.6 151.5L456.0 152.0L455.4 152.5L454.8 153.0L454.2 153.5L453.7 154.0L453.2 154.5L452.7 155.0L452.2 155.5L451.8 156.0L451.3 156.5L450.9 157.0L450.6 157.5L450.2 158.0L449.8 158.5L449.5 159.0L449.2 159.5L448.9 160.0L448.6 160.5L448.3 161.0L448.1 161.5L447.9 162.0L447.6 162.5L447.4 163.0L447.2 163.5L447.0 164.0L446.9 164.5L446.7 165.0L446.5 165.5L446.4 166.0L446.2 166.5L446.1 167.0L444.0 167.0Z"/></clipPath>
<path d="M443.5 67.60H522.8M443.5 70.53H522.8M443.5 73.46H522.8M443.5 76.39H522.8M443.5 79.32H522.8M443.5 82.25H522.8M443.5 85.18H522.8M443.5 88.11H522.8M443.5 91.04H522.8M443.5 93.97H522.8M443.5 96.90H522.8M443.5 99.83H522.8M443.5 102.76H522.8M443.5 105.69H522.8M443.5 108.62H522.8M443.5 111.55H522.8M443.5 114.48H522.8M443.5 117.41H522.8M443.5 120.34H522.8M443.5 123.27H522.8M443.5 126.20H522.8M443.5 129.13H522.8M443.5 132.06H522.8M443.5 134.99H522.8M443.5 137.92H522.8M443.5 140.85H522.8M443.5 143.78H522.8M443.5 146.71H522.8M443.5 149.64H522.8M443.5 152.57H522.8M443.5 155.50H522.8M443.5 158.43H522.8M443.5 161.36H522.8M443.5 164.29H522.8" stroke="#5a6466" stroke-width="0.9" fill="none" clip-path="url(#hc)"/>
<path d="M446.1 66.5L446.2 67.0L446.4 67.5L446.5 68.0L446.7 68.5L446.8 69.0L447.0 69.5L447.2 70.0L447.4 70.5L447.6 71.0L447.8 71.5L448.0 72.0L448.3 72.5L448.6 73.0L448.8 73.5L449.1 74.0L449.4 74.5L449.8 75.0L450.1 75.5L450.5 76.0L450.9 76.5L451.3 77.0L451.7 77.5L452.1 78.0L452.6 78.5L453.1 79.0L453.6 79.5L454.1 80.0L454.7 80.5L455.2 81.0L455.8 81.5L456.5 82.0L457.1 82.5L457.8 83.0L458.5 83.5L459.2 84.0L460.0 84.5L460.7 85.0L461.6 85.5L462.4 86.0L463.2 86.5L464.1 87.0L465.0 87.5L466.0 88.0L466.9 88.5L467.9 89.0L468.9 89.5L469.9 90.0L471.0 90.5L472.1 91.0L473.2 91.5L474.3 92.0L475.4 92.5L476.6 93.0L477.8 93.5L479.0 94.0L480.2 94.5L481.4 95.0L482.6 95.5L483.9 96.0L485.1 96.5L486.4 97.0L487.7 97.5L488.9 98.0L490.2 98.5L491.5 99.0L492.8 99.5L494.0 100.0L495.3 100.5L496.6 101.0L497.8 101.5L499.1 102.0L500.3 102.5L501.5 103.0L502.7 103.5L503.9 104.0L505.0 104.5L506.2 105.0L507.3 105.5L508.3 106.0L509.4 106.5L510.4 107.0L511.3 107.5L512.3 108.0L513.2 108.5L514.0 109.0L514.8 109.5L515.6 110.0L516.3 110.5L517.0 111.0L517.6 111.5L518.2 112.0L518.7 112.5L519.1 113.0L519.5 113.5L519.9 114.0L520.2 114.5L520.4 115.0L520.6 115.5L520.7 116.0L520.8 116.5L520.8 117.0L520.7 117.5L520.6 118.0L520.5 118.5L520.2 119.0L520.0 119.5L519.6 120.0L519.2 120.5L518.8 121.0L518.3 121.5L517.7 122.0L517.1 122.5L516.4 123.0L515.7 123.5L515.0 124.0L514.2 124.5L513.3 125.0L512.5 125.5L511.5 126.0L510.6 126.5L509.6 127.0L508.5 127.5L507.5 128.0L506.4 128.5L505.3 129.0L504.1 129.5L502.9 130.0L501.8 130.5L500.6 131.0L499.3 131.5L498.1 132.0L496.8 132.5L495.6 133.0L494.3 133.5L493.0 134.0L491.8 134.5L490.5 135.0L489.2 135.5L487.9 136.0L486.6 136.5L485.4 137.0L484.1 137.5L482.9 138.0L481.6 138.5L480.4 139.0L479.2 139.5L478.0 140.0L476.8 140.5L475.7 141.0L474.5 141.5L473.4 142.0L472.3 142.5L471.2 143.0L470.1 143.5L469.1 144.0L468.1 144.5L467.1 145.0L466.1 145.5L465.2 146.0L464.3 146.5L463.4 147.0L462.5 147.5L461.7 148.0L460.9 148.5L460.1 149.0L459.4 149.5L458.6 150.0L457.9 150.5L457.3 151.0L456.6 151.5L456.0 152.0L455.4 152.5L454.8 153.0L454.2 153.5L453.7 154.0L453.2 154.5L452.7 155.0L452.2 155.5L451.8 156.0L451.3 156.5L450.9 157.0L450.6 157.5L450.2 158.0L449.8 158.5L449.5 159.0L449.2 159.5L448.9 160.0L448.6 160.5L448.3 161.0L448.1 161.5L447.9 162.0L447.6 162.5L447.4 163.0L447.2 163.5L447.0 164.0L446.9 164.5L446.7 165.0L446.5 165.5L446.4 166.0L446.2 166.5L446.1 167.0" fill="none" stroke="#0c0c0c" stroke-width="2.6" stroke-linecap="round" stroke-linejoin="round"/>
<polyline points="72.0,241.4 86.4,227.1 97.6,254.2 106.7,258.6 114.4,243.5 121.1,243.0 127.0,258.0 132.3,247.0 137.1,243.6 141.4,248.5 145.4,239.2 149.1,233.7 152.6,228.7 155.8,239.2 158.9,232.2 161.7,237.0 164.4,235.9 167.0,236.6 169.4,231.5 171.8,234.8 174.0,245.8 176.1,243.6 178.2,228.7 180.1,237.0 182.0,235.9 183.8,261.1 185.6,252.4 187.3,235.1 188.9,226.4 190.5,234.1 192.1,249.4 193.6,257.0 195.0,247.5 196.4,238.0 197.8,246.8 199.1,255.7 200.4,252.8 201.7,245.2 202.9,235.7 204.1,228.1 205.3,225.2 206.5,230.9 207.6,243.8 208.7,254.2 209.8,252.8 210.8,235.7 211.9,225.2 212.9,233.0 213.9,248.5 214.8,256.3 215.8,241.6 216.7,227.0 217.7,229.9 218.6,237.0 219.4,244.1 220.3,238.8" fill="none" stroke="#2b3133" stroke-width="1.45" stroke-linejoin="round"/>
<polyline points="221.2,245.9 222.0,258.5 222.8,255.9 223.7,242.6 224.5,252.3 225.2,271.8 226.0,240.6 226.8,235.1 227.5,236.1 228.3,235.9 229.0,265.5 229.7,228.8 230.4,248.3 231.1,257.5 231.8,251.7 232.5,255.0 233.2,261.7 233.8,246.8 234.5,244.7 235.1,248.9 235.8,244.8 236.4,248.6 237.0,255.2 237.7,253.4 238.3,240.9 238.9,264.3 239.4,252.9 240.0,236.4 240.6,244.0 241.2,239.5 241.8,246.7 242.3,260.8 242.9,251.3 243.4,245.4 244.0,251.3 244.5,248.7 245.0,244.8 245.5,237.1 246.1,252.1 246.6,234.2 247.1,246.8 247.6,236.1 248.1,234.6 248.6,228.3 249.1,235.3 249.6,235.2 250.0,228.7 250.5,268.1 251.0,258.4 251.4,235.6 251.9,272.2 252.4,244.8 252.8,244.9 253.3,265.6 253.7,257.9 254.1,239.5 254.6,240.6 255.0,253.8 255.4,256.8 255.9,255.5 256.3,241.5 256.7,264.0 257.1,246.6 257.5,264.9 258.0,237.0 258.4,244.6 258.8,232.5 259.2,272.5 259.6,272.5 259.9,254.4 260.3,230.7 260.7,261.0 261.1,232.9 261.5,245.2 261.9,245.3 262.2,239.3 262.6,259.3 263.0,254.5 263.4,262.5 263.7,245.9 264.1,226.9 264.4,251.7 264.8,241.4 265.1,242.9 265.5,244.9 265.8,249.3 266.2,232.5 266.5,246.1 266.9,253.0 267.2,235.0 267.6,238.2 267.9,243.5 268.2,248.6 268.6,229.3 268.9,246.8 269.2,254.1 269.5,240.2 269.9,250.4 270.2,247.0 270.5,251.0 270.8,248.9 271.1,267.6 271.4,257.1 271.7,256.0 272.1,264.4 272.4,250.1 272.7,244.0 273.0,259.1 273.3,224.4 273.6,248.8 273.9,242.5 274.2,260.7 274.5,258.0 274.7,229.4 275.0,239.9 275.3,248.8 275.6,264.3 275.9,229.9 276.2,258.5 276.5,252.7 276.7,249.0 277.0,242.9 277.3,247.0 277.6,247.5 277.8,226.1 278.1,245.9 278.4,241.9 278.7,265.2 278.9,238.4 279.2,269.8 279.5,255.2 279.7,222.4 280.0,256.5 280.3,247.3 280.5,261.7 280.8,261.7 281.0,234.6 281.3,252.6 281.5,248.3 281.8,250.9 282.0,265.9 282.3,249.1 282.5,235.3 282.8,256.7 283.0,242.1 283.3,235.0 283.5,262.7 283.8,237.5 284.0,272.9 284.3,239.8 284.5,251.6 284.7,261.5 285.0,249.0 285.2,255.0 285.5,269.5 285.7,235.6 285.9,234.7 286.2,260.4 286.4,252.7 286.6,253.7 286.8,250.7 287.1,263.9 287.3,236.8 287.5,247.0 287.7,259.6 288.0,253.5 288.2,256.9 288.4,249.8 288.6,240.2 288.9,240.0 289.1,261.2 289.3,246.5 289.5,258.7 289.7,270.5 289.9,261.1 290.2,247.8 290.4,267.5 290.6,256.6 290.8,242.7 291.0,256.3 291.2,256.8 291.4,259.7 291.6,272.3 291.8,251.2 292.0,247.6 292.3,246.6 292.5,260.7 292.7,260.3 292.9,238.6 293.1,259.7 293.3,251.7 293.5,289.0 293.7,261.3 293.9,261.3 294.1,267.5 294.3,231.8 294.5,252.3 294.7,273.4 294.9,247.8 295.0,248.5 295.2,248.2 295.4,232.9 295.6,249.1 295.8,248.2 296.0,256.9 296.2,261.0 296.4,248.7 296.8,259.7 297.0,254.4 297.1,247.6 297.3,246.7 297.5,255.3 297.7,276.5 297.9,245.7 298.1,252.8 298.2,260.1 298.4,254.5 298.6,263.3 298.8,245.9 299.1,270.1 299.3,244.7 299.5,243.1 299.7,250.8 299.9,242.6 300.0,267.9 300.2,234.4 300.4,244.9 300.6,236.9 300.7,284.3 300.9,267.6 301.1,255.7 301.2,252.3 301.4,228.5 301.6,249.0 301.8,264.3 301.9,242.8 302.1,246.5 302.3,257.6 302.4,239.3 302.6,235.6 302.8,251.6 302.9,260.8 303.1,241.1 303.3,244.2 303.4,252.4 303.6,258.9 303.9,243.4 304.1,248.1 304.2,288.6 304.4,241.6 304.6,229.2 304.7,244.2 304.9,238.9 305.0,248.5 305.2,226.7 305.4,248.6 305.5,232.9 305.7,231.6 305.8,250.3 306.0,238.9 306.1,268.2 306.3,244.1 306.5,268.4 306.6,242.3 306.8,254.0 306.9,251.1 307.1,259.8 307.2,245.7 307.4,240.3 307.5,260.0 307.7,252.5 307.8,245.6 308.0,256.2 308.3,226.5 308.4,245.6 308.6,249.7 308.7,246.8 308.9,258.8 309.0,267.4 309.2,257.9 309.3,245.7 309.5,252.4 309.6,259.7 309.7,261.6 309.9,248.7 310.0,252.7 310.2,240.2 310.3,261.8 310.5,221.6 310.6,249.7 310.7,226.1 310.9,252.9 311.0,242.6 311.2,254.8 311.3,229.6 311.5,240.5 311.6,257.6 311.9,240.5 312.0,271.4 312.3,256.1 312.4,281.3 312.7,227.0 312.8,273.1 313.1,247.6 313.2,244.5 313.5,252.5 313.6,255.4 313.8,271.4 313.9,228.4 314.0,233.8 314.2,257.2 314.3,249.3 314.4,252.3 314.7,262.8 314.8,224.3 315.0,251.6 315.1,240.5 315.2,251.3 315.5,231.5 315.6,247.8 315.7,232.2 315.9,257.2 316.0,241.1 316.1,233.2 316.2,240.1 316.4,257.2 316.5,260.6 316.6,253.4 316.8,257.0 316.9,245.1 317.1,258.5 317.3,264.8 317.5,249.5 317.6,240.8 317.8,244.7 317.9,241.6 318.0,235.0 318.2,268.4 318.4,252.2 318.5,266.9 318.6,247.7 318.7,272.2 318.8,250.1 319.1,242.6 319.2,249.5 319.3,221.9 319.4,254.9 319.6,240.0 319.8,261.7 319.9,255.0 320.0,268.3 320.2,247.3 320.3,273.3 320.4,239.9 320.7,264.4 320.9,233.0 321.1,238.4 321.2,251.1 321.5,235.6 321.7,272.9 321.9,234.5 322.0,239.9 322.1,239.3 322.3,247.5 322.5,261.2 322.6,243.9 322.7,254.8 322.8,252.8 323.0,249.6 323.1,261.8 323.2,241.6 323.3,247.2 323.6,227.5 323.7,240.8 323.9,266.8 324.0,250.1 324.2,246.2 324.3,249.1 324.4,256.0 324.8,237.7 324.9,258.5 325.1,236.1 325.2,236.1 325.3,263.9 325.5,254.0 325.6,236.1 325.8,257.7 325.9,250.0 326.0,255.8 326.3,247.1 326.4,236.1 326.6,225.4 326.7,240.4 326.8,229.4 326.9,276.7 327.1,241.2 327.2,244.4 327.4,281.7 327.5,263.2 327.6,252.6 327.7,245.4 327.8,261.5 327.9,250.1 328.0,251.7 328.3,243.1 328.4,254.1 328.5,251.8 328.6,261.4 328.7,254.9 328.8,260.4 329.0,228.0 329.1,230.4 329.2,258.3 329.3,244.8 329.6,281.2 329.7,259.2 329.8,252.7 329.9,269.0 330.0,263.8 330.0,262.5 330.2,268.2 330.3,254.0 330.4,243.4 330.6,262.6 330.7,253.1 330.8,250.6 330.9,277.6 331.0,240.0 331.1,260.2 331.2,268.4 331.3,224.2 331.6,260.7 331.7,240.0 331.9,281.7 332.0,258.2 332.1,229.8 332.2,265.3 332.3,237.1 332.4,262.5 332.6,284.7 332.7,253.6 332.8,248.3 333.0,280.3 333.1,247.7 333.2,258.4 333.4,269.9 333.5,223.8 333.6,265.9 333.9,241.8 333.9,255.9 334.0,251.1 334.1,252.7 334.2,246.1 334.3,246.3 334.4,252.0 334.6,235.5 334.7,260.0 334.7,259.1 334.8,259.6 334.9,260.5 335.1,251.0 335.2,243.0 335.3,260.3 335.5,224.6 335.6,248.9 335.7,243.4 335.8,264.4 336.0,249.5 336.0,261.5 336.2,238.8 336.3,261.2 336.4,262.6 336.6,244.8 336.7,253.8 336.8,265.8 336.9,281.5 337.0,248.2 337.1,250.9 337.2,276.6 337.6,240.2 337.6,238.0 337.7,252.6 337.9,248.4 338.0,255.5 338.1,262.3 338.2,240.7 338.3,251.9 338.4,261.5 338.5,231.7 338.6,271.0 338.7,270.4 338.8,236.3 338.9,271.3 339.1,247.6 339.2,237.7 339.3,237.6 339.5,255.8 339.6,255.6 339.7,235.0 339.9,286.4 340.0,256.8 340.2,229.2 340.3,267.3 340.4,246.2 340.5,242.1 340.5,263.1 340.7,247.3 340.8,221.8 341.2,258.0 341.2,244.5 341.4,234.5 341.5,271.1 341.5,270.5 341.6,262.2 341.8,239.9 341.9,249.3 342.0,251.8 342.1,274.5 342.2,241.7 342.3,242.5 342.4,238.9 342.5,289.0 342.8,270.2 342.8,231.7 342.9,254.2 343.1,245.2 343.2,236.5 343.5,268.6 343.6,260.6 343.7,273.7 343.9,241.2 344.0,255.7 344.2,269.0 344.2,248.1 344.3,264.4 344.4,245.0 344.7,281.7 344.7,243.0 344.8,282.6 345.0,237.9 345.1,244.5 345.2,288.2 345.4,234.2 345.5,254.0 345.6,274.9 345.8,237.3 345.9,256.1 346.0,268.2 346.1,269.4 346.2,233.9 346.3,267.0 346.4,235.8 346.7,259.3 346.8,275.4 347.1,243.5 347.2,242.3 347.4,234.7 347.5,250.9 347.6,260.8 347.9,278.6 347.9,237.3 348.0,246.0 348.1,265.8 348.2,243.5 348.3,248.9 348.4,240.6 348.6,264.0 348.7,243.7 348.8,254.8 348.9,232.8 349.1,268.4 349.2,233.7 349.4,263.8 349.5,250.7 349.6,271.8 349.9,275.9 349.9,221.6 350.0,240.9 350.1,268.5 350.2,235.9 350.3,258.3 350.4,264.6 350.4,269.5 350.8,236.2 350.8,235.1 350.9,264.3 351.1,231.2 351.2,232.2 351.5,276.1 351.5,243.3 351.6,248.2 351.7,229.3 352.0,280.9 352.0,256.5 352.1,275.8 352.3,237.9 352.4,259.5 352.6,285.0 352.8,249.3 352.8,251.5 353.0,234.5 353.1,264.8 353.1,249.8 353.2,263.8 353.4,263.8 353.4,229.7 353.6,255.2 353.6,250.9 353.7,249.9 353.9,283.4 354.0,258.0 354.1,248.4 354.2,265.2 354.3,254.0 354.4,267.0 354.5,243.5 354.7,283.2 354.8,272.2 355.0,246.8 355.2,248.1 355.2,239.4 355.3,263.4 355.5,254.6 355.6,251.5 355.6,265.3 355.7,244.5 355.9,263.2 356.0,287.4 356.3,229.5 356.3,262.5 356.4,266.8 356.4,234.6 356.5,277.0 356.7,272.4 356.8,262.1 357.1,242.1 357.2,268.0 357.2,263.3 357.6,243.1 357.6,284.0 357.9,245.1 357.9,267.6 358.0,254.7 358.1,233.7 358.3,258.4 358.4,250.1 358.4,229.9 358.5,269.3 358.8,247.3 358.8,259.3 359.0,272.1 359.1,249.7 359.1,253.2 359.2,242.2 359.3,257.7 359.4,240.5 359.5,249.4 359.6,251.4 359.8,232.1 359.8,270.9 359.9,251.7 360.0,267.1 360.1,246.3 360.3,287.2 360.3,247.9 360.4,271.9 360.5,238.5 360.7,257.7 360.8,265.7 361.1,230.8 361.2,250.7 361.2,254.6 361.4,243.8 361.5,272.9 361.6,255.7 361.7,263.9 361.7,237.6 361.9,246.4 362.0,256.5 362.3,238.7 362.3,270.0 362.4,260.8 362.5,270.4 362.7,247.1 362.8,254.6 363.0,226.4 363.1,283.9 363.1,253.4 363.2,265.8 363.4,273.0 363.4,247.2 363.5,259.5 363.6,269.3 363.6,242.3 363.7,278.7 363.9,275.3 364.0,240.0 364.0,272.8 364.3,264.6 364.4,261.9 364.4,236.5 364.7,273.3 364.8,263.4 364.8,259.5 364.9,278.6 365.0,234.6 365.1,259.6 365.2,243.2 365.4,232.5 365.5,286.3 365.5,256.9 365.6,259.4 365.9,273.6 365.9,244.3 365.9,265.0 366.0,249.7 366.2,242.2 366.3,297.0 366.3,274.7 366.4,229.0 366.7,264.3 366.7,256.1 366.8,272.4 366.8,248.3 367.0,281.6 367.2,260.3 367.2,249.7 367.2,239.6 367.3,265.6 367.5,253.7 367.6,248.3 367.7,278.5 367.8,240.0 367.9,270.4 368.0,274.4 368.0,228.6 368.3,245.7 368.4,250.9 368.4,284.0 368.5,231.4 368.7,254.8 368.8,265.0 368.8,271.7 368.9,233.2 369.1,247.3 369.2,269.6 369.4,234.7 369.5,270.1 369.6,254.9 369.6,269.9 369.9,241.7 369.9,261.0 370.0,254.1 370.1,241.2 370.2,265.5 370.4,255.8 370.4,282.3 370.6,242.9 370.7,250.9 370.8,253.5 371.0,231.3 371.1,275.2 371.1,251.6 371.2,259.4 371.3,275.9 371.3,243.4 371.6,254.0 371.6,240.4 371.6,262.3 371.7,238.7 371.9,260.2 372.0,262.1 372.1,246.3 372.2,279.1 372.4,262.1 372.4,266.3 372.6,250.0 372.8,255.4 372.8,241.3 372.8,266.8 373.0,235.5 373.1,244.6 373.2,253.9 373.4,279.7 373.5,238.6 373.5,251.8 373.6,246.3 373.7,276.4 373.9,246.4 374.0,257.0 374.3,243.1 374.3,286.2 374.3,256.0 374.4,259.7 374.6,289.0 374.7,232.3 374.8,259.7 374.9,281.8 375.1,244.7 375.1,251.7 375.2,271.6 375.3,275.2 375.4,246.9 375.6,263.1 375.6,260.8 375.7,239.8 375.9,261.4 375.9,248.5 376.0,239.1 376.3,278.1 376.3,250.7 376.4,273.9 376.5,246.4 376.8,253.3 376.8,258.6 376.9,273.7 377.1,230.5 377.1,238.2 377.2,244.3 377.2,276.5 377.5,234.6 377.5,259.7 377.6,247.2 377.6,280.0 378.0,271.2 378.0,276.3 378.1,233.9 378.4,255.0 378.4,269.2 378.7,283.1 378.8,252.0 378.8,271.8 379.0,243.4 379.1,279.4 379.2,256.0 379.2,271.7 379.3,275.0 379.5,243.3 379.6,269.3 379.6,257.4 379.7,244.4 379.9,275.3 380.0,268.0 380.0,264.8 380.1,247.7 380.2,278.3 380.3,257.2 380.4,259.6 380.4,230.9 380.8,287.0 380.8,250.6 380.9,267.6 381.0,240.4 381.1,253.0 381.2,267.4 381.3,272.0 381.4,239.9 381.6,268.8 381.6,282.4 381.7,242.2 381.9,255.5 382.0,260.1 382.2,274.7 382.2,245.1 382.3,248.9 382.4,268.4 382.5,286.9 382.8,237.7 382.8,252.9 383.0,239.9 383.1,292.4 383.2,263.0 383.2,253.0 383.4,238.2 383.4,282.9 383.6,251.8 383.6,260.4 383.7,278.8 383.8,244.6 384.0,262.5 384.0,258.4 384.1,275.6 384.3,238.4 384.3,259.6 384.4,274.0 384.4,237.2 384.7,255.5 384.8,260.4 385.0,239.7 385.1,275.6 385.2,252.6 385.2,249.2 385.3,279.1 385.5,263.5 385.6,264.6 385.6,234.6 385.7,273.1 386.0,265.0 386.0,273.9 386.3,242.8 386.4,254.8 386.4,279.9 386.6,233.7 386.7,280.5 386.8,272.7 386.8,254.0 386.9,243.7 387.0,275.0 387.1,259.4 387.2,247.1 387.4,285.7 387.5,265.6 387.6,255.9 387.8,285.4 387.9,244.5 388.0,250.0 388.0,280.5 388.1,245.6 388.2,289.8 388.4,264.7 388.4,267.3 388.4,242.9 388.7,275.8 388.8,255.9 388.9,238.6 389.1,278.0 389.2,249.4 389.2,257.5 389.2,276.6 389.3,245.3 389.5,262.6 389.6,274.3 389.7,290.5 389.9,251.8 390.0,258.5 390.0,258.3 390.1,296.4 390.2,244.7 390.4,263.3 390.4,268.4 390.4,246.8 390.5,274.8 390.8,257.0 390.8,247.9 390.9,288.1 391.2,271.1 391.2,268.0 391.5,283.6 391.5,242.1 391.6,257.8 391.6,278.6 391.7,251.2 391.9,293.0 392.0,268.8 392.0,255.2 392.2,282.0 392.2,247.5 392.3,261.8 392.4,266.9 392.6,231.4 392.7,283.6 392.8,273.0 392.8,283.2 393.1,251.7 393.1,263.8 393.2,272.5 393.3,303.7 393.4,248.3 393.6,267.7 393.6,268.9 393.6,241.6 393.7,301.1 394.0,259.9 394.0,272.4 394.2,239.8 394.4,283.4 394.4,277.9 394.6,240.2 394.7,292.1 394.8,269.4 394.8,304.8 394.9,245.8 395.1,305.1 395.2,270.5 395.2,274.4 395.4,246.6 395.4,293.6 395.6,271.0 395.6,254.6 395.6,290.6 395.9,251.8 395.9,264.7 396.0,267.3 396.1,283.6 396.3,249.7 396.4,269.3 396.4,269.3 396.6,280.7 396.7,238.6 396.8,271.7 396.8,254.5 397.0,251.0 397.1,290.3 397.1,265.2 397.2,274.5 397.2,295.3 397.2,242.3 397.5,266.4 397.6,273.0 397.6,284.7 397.9,250.7 397.9,264.3 398.0,264.3 398.0,252.1 398.2,287.5 398.4,272.4 398.4,263.9 398.5,280.0 398.5,242.1 398.8,256.4 398.8,258.9 399.0,287.3 399.1,239.9 399.2,262.0 399.2,284.8 399.5,247.8 399.6,251.8 399.6,259.4 399.7,249.0 399.9,292.8 399.9,273.5 400.0,268.4 400.0,284.0 400.3,242.0 400.3,250.8 400.4,274.3 400.7,298.6 400.7,252.6 400.8,269.6 400.8,273.9 400.8,315.1 401.1,248.2 401.2,267.6 401.3,258.4 401.4,292.8 401.6,261.9 401.6,271.0 401.8,250.1 401.9,281.6 402.0,271.4 402.0,253.1 402.0,291.6 402.3,266.9 402.4,246.1 402.4,296.3 402.8,285.6 402.8,263.2 402.8,296.4 403.0,252.5 403.2,279.6 403.2,247.6 403.4,299.8 403.5,244.5 403.6,261.2 403.6,269.7 403.8,286.6 403.8,257.7 404.0,273.7 404.0,294.4 404.3,251.5 404.3,307.6 404.4,281.1 404.4,298.8 404.6,245.8 404.7,284.7 404.8,267.9 405.0,299.4 405.1,256.9 405.2,270.9 405.2,291.8 405.2,252.1 405.2,292.7 405.6,258.8 405.6,273.5 405.7,293.9 405.7,254.1 405.9,282.2 406.0,275.2 406.2,300.0 406.2,260.3 406.3,285.8 406.4,265.2 406.6,293.4 406.7,251.2 406.7,280.9 406.8,269.3 406.8,297.1 407.1,249.0 407.2,263.5 407.2,251.7 407.3,308.5 407.6,280.6 407.6,252.3 407.7,290.7 407.9,241.9 408.0,279.5 408.0,263.5 408.1,319.0 408.2,255.0 408.3,272.1 408.4,289.0 408.6,303.8 408.6,254.8 408.8,275.1 408.8,263.0 409.1,255.9 409.1,294.5 409.1,279.2 409.2,272.1 409.2,294.7 409.5,248.6 409.6,262.6 409.6,266.2 409.9,255.5 409.9,284.2 410.0,278.2 410.0,278.8 410.0,256.8 410.3,304.1 410.4,285.2 410.4,285.9 410.5,293.7 410.7,254.7 410.8,280.7 410.8,249.5 410.9,288.9 411.2,283.5 411.2,258.8 411.3,255.8 411.5,300.5 411.6,279.3 411.6,288.1 411.8,249.7 411.9,289.6 412.0,256.1 412.0,260.5 412.0,258.0 412.3,311.6 412.4,269.3 412.4,278.2 412.6,257.0 412.6,300.4 412.8,262.0 412.8,258.6 412.8,254.2 413.1,300.3 413.2,281.9 413.2,261.1 413.5,308.7 413.6,270.2 413.6,267.5 413.7,252.9 413.9,314.3 414.0,278.9 414.0,273.4 414.1,254.8 414.2,299.1 414.4,270.8 414.4,291.3 414.4,261.5 414.7,305.5 414.8,279.6 414.8,296.3 414.9,297.1 415.1,251.5 415.2,274.1 415.2,264.1 415.5,297.3 415.5,264.0 415.6,291.0 415.6,275.6 415.6,254.3 415.9,300.0 416.0,275.9 416.0,271.3 416.1,257.2 416.3,304.7 416.4,271.9 416.4,295.2 416.4,253.3 416.5,308.0 416.8,281.4 416.8,285.3 416.9,306.9 417.1,255.2 417.2,280.9 417.2,272.7 417.2,325.4 417.3,251.8 417.6,278.8 417.6,301.8 417.7,258.9 417.9,309.6 418.0,267.7 418.0,270.6 418.1,297.3 418.2,257.3 418.4,267.7 418.4,255.8 418.6,301.3 418.8,277.7 418.8,262.0 418.9,259.7 419.2,306.4 419.2,297.0 419.3,303.4 419.5,251.8 419.6,268.9 419.6,277.3 419.7,298.1 419.9,259.0 420.0,285.8 420.0,272.8 420.1,312.3 420.2,256.4 420.4,289.7 420.4,288.6 420.4,259.3 420.7,313.0 420.8,299.8 420.8,278.2 420.9,266.2 421.2,305.0 421.2,283.1 421.3,309.9 421.5,271.7 421.6,289.8 421.6,270.1 421.7,263.8 421.8,305.2 422.0,294.8 422.0,277.7 422.2,263.3 422.4,312.7 422.4,305.4 422.5,269.8 422.6,308.6 422.8,293.8 422.8,286.5 422.8,312.4 422.9,259.6 423.2,310.7 423.2,281.5 423.2,315.9 423.4,271.8 423.6,285.9 423.6,278.0 423.7,246.3 423.9,319.7 424.0,298.5 424.0,302.4 424.2,260.6 424.4,285.4 424.4,284.0 424.4,263.9 424.4,303.0 424.8,283.9 424.8,281.3 424.8,301.0 424.9,260.8 425.2,290.1 425.2,300.7 425.4,259.3 425.5,314.8 425.6,283.2 425.6,302.3 425.9,269.5 425.9,311.1 426.0,281.4 426.0,283.1 426.1,311.7 426.2,262.3 426.4,275.1 426.4,300.0 426.5,322.2 426.5,270.9 426.8,304.3 426.8,276.4 426.8,317.2 427.0,266.9 427.2,272.8 427.2,295.5 427.3,273.7 427.6,303.5 427.6,287.8 427.6,270.9 427.8,328.5 428.0,285.2 428.0,286.5 428.1,268.0 428.1,308.3 428.4,269.4 428.4,316.1 428.6,277.8 428.7,323.4 428.8,299.3 428.8,281.9 428.8,272.1 428.9,305.4 429.2,301.4 429.2,314.1 429.3,316.6 429.4,265.8 429.6,283.4 429.6,294.8 429.6,311.1 429.8,277.2 430.0,285.5 430.0,284.8 430.1,323.7 430.3,268.8 430.4,281.0 430.4,267.5 430.7,311.4 430.8,284.2 430.8,280.5 430.9,313.1 431.2,270.3 431.2,302.2 431.2,262.8 431.2,326.4 431.6,285.6 431.6,279.9 431.9,337.7 432.0,270.7 432.0,300.9 432.0,270.4 432.3,310.1 432.4,281.7 432.4,298.2 432.7,321.0 432.8,271.0 432.8,288.6 432.9,271.9 433.0,324.5 433.2,298.3 433.2,291.2 433.4,309.1 433.5,260.2 433.6,282.1 433.6,289.8 433.6,275.4 433.9,330.1 434.0,282.8 434.0,296.0 434.0,270.9 434.1,322.0 434.4,283.6 434.4,296.7 434.4,317.0 434.6,272.6 434.8,287.4 434.8,275.4 434.9,273.8 435.1,329.4 435.2,282.4 435.2,288.4 435.3,272.5 435.5,321.0 435.6,293.3 435.6,289.7 435.8,330.1 435.8,276.4 436.0,310.3 436.0,312.8 436.0,325.4 436.1,264.3 436.4,281.2 436.4,306.9 436.5,325.2 436.6,275.6 436.8,301.3 436.8,303.1 437.1,332.2 437.1,261.9 437.2,306.6 437.2,280.5 437.4,269.2 437.5,321.9 437.6,284.6 437.6,294.0 437.7,280.9 437.8,322.2 438.0,284.0 438.0,300.9 438.1,276.3 438.2,321.0 438.4,283.3 438.4,305.7 438.5,279.6 438.7,322.4 438.8,320.6 438.8,307.6 438.9,268.5 439.1,318.4 439.2,304.5 439.2,290.2 439.3,273.6 439.5,315.1 439.6,287.4 439.6,298.0 439.6,278.3 439.9,326.6 440.0,292.9 440.0,288.9 440.1,269.8 440.2,330.3 440.4,295.3 440.4,309.4 440.5,272.1 440.6,329.3 440.8,295.1 440.8,301.1 441.0,280.6 441.0,338.4 441.2,285.6 441.2,330.9 441.5,278.9 441.6,312.3 441.6,285.2 441.8,275.6 441.8,325.9 442.0,296.7 442.0,316.6 442.2,327.2 442.2,285.4 442.4,297.1 442.4,319.4 442.4,282.1 442.7,321.5 442.8,298.3 442.8,311.7 443.0,347.8 443.0,282.5 443.2,293.3 443.2,307.1 443.2,341.2 443.4,282.0 443.6,335.0 443.6,301.4 443.7,337.8 444.0,284.8 444.0,312.9 444.0,278.8 444.3,328.8 444.4,302.5 444.4,309.0 444.5,282.2 444.5,331.7 444.8,318.2 444.8,292.6 444.9,334.2 444.9,285.5 445.2,287.0 445.2,327.7 445.4,284.1 445.5,333.1 445.6,291.7 445.6,323.7 445.6,281.9 445.9,332.7 446.0,297.0 446.0,306.0 446.1,289.3 446.2,328.4 446.4,293.9 446.4,336.0 446.4,279.5 446.5,339.9 446.8,300.1 446.8,291.4 446.8,336.6 446.9,284.2 447.2,284.3 447.2,299.3 447.4,330.7 447.4,288.8 447.6,302.4 447.6,296.4 447.8,359.1 447.9,292.4 448.0,294.2 448.0,314.6 448.1,290.4 448.3,332.1 448.4,304.7 448.4,292.9 448.4,338.7 448.6,289.3 448.8,321.3 448.8,314.1 449.0,338.0 449.2,291.5 449.2,301.4 449.4,289.4 449.5,355.0 449.6,307.0 449.6,317.1 449.9,287.5 450.0,328.6 450.0,303.6 450.1,290.9 450.3,344.4 450.4,307.5 450.4,303.3 450.7,292.4 450.7,338.3 450.8,316.6 450.8,323.1 451.0,283.5 451.1,342.0 451.2,308.4 451.2,314.6 451.2,284.9 451.5,338.0 451.6,302.7 451.6,316.1 451.7,331.2 451.8,294.4 452.0,301.3 452.0,293.8 452.1,354.9 452.1,292.8 452.4,305.4 452.4,302.6 452.4,286.9 452.5,345.5 452.8,343.2 452.8,314.2 452.8,292.9 452.9,348.4 453.2,308.6 453.2,316.2 453.3,346.5 453.4,293.3 453.6,333.7 453.6,311.7 453.7,355.5 453.8,288.6 454.0,334.8 454.0,324.7 454.0,343.3 454.0,291.9 454.4,325.3 454.4,330.9 454.6,291.2 454.7,345.4 454.8,313.2 454.8,317.0 455.0,297.3 455.1,349.2 455.2,316.0 455.2,311.9 455.2,348.7 455.6,291.3 455.6,306.0 455.6,295.0 455.9,363.2 456.0,328.5 456.0,318.7 456.2,296.0 456.3,359.6 456.4,334.9 456.4,316.6 456.5,290.1 456.7,345.4 456.8,328.1 456.8,336.1 456.8,348.9 456.9,290.9 457.2,319.0 457.2,338.3 457.3,290.8 457.6,355.3 457.6,327.0 457.7,298.0 457.8,363.0 458.0,333.5 458.0,307.7 458.0,356.4 458.0,299.7 458.4,301.5 458.4,328.7 458.5,298.4 458.6,371.7 458.8,336.3 458.8,310.9 458.8,300.9 459.1,351.9 459.2,318.5 459.2,313.7 459.3,364.6 459.3,299.5 459.6,338.3 459.6,343.4 459.7,347.0 459.7,306.9 460.0,328.0 460.0,323.8 460.1,358.2 460.2,307.1 460.4,320.3 460.4,314.7 460.4,294.4 460.5,356.4 460.8,314.9 460.8,310.4 460.9,353.1 461.0,298.1 461.2,328.7 461.2,326.2 461.2,363.9 461.3,303.3 461.6,325.1 461.6,338.3 461.7,298.7 462.0,351.2 462.0,319.0 462.0,304.8 462.3,372.0 462.4,314.4 462.4,327.4 462.5,300.0 462.6,373.1 462.8,316.5 462.8,319.3 462.8,368.2 462.9,305.7 463.2,320.4 463.2,318.0 463.2,301.6 463.3,357.2 463.6,322.0 463.6,302.2 463.9,358.9 464.0,342.0 464.0,331.8 464.1,302.2 464.2,362.1 464.4,322.8 464.4,328.3 464.6,357.7 464.7,302.3 464.8,314.9 464.8,327.9 465.1,300.6 465.1,354.9 465.2,329.5 465.2,307.9 465.2,301.8 465.5,355.1 465.6,329.0 465.6,343.4 465.6,362.8 465.7,303.8 466.0,324.3 466.0,311.3 466.2,307.7 466.3,356.6 466.4,337.3 466.4,325.9 466.6,304.5 466.6,365.8 466.8,332.0 466.8,345.2 466.8,306.6 466.9,366.8 467.2,359.6 467.2,335.6 467.2,379.0 467.5,305.2 467.6,334.5 467.6,341.0 467.8,308.4 468.0,365.4 468.0,338.2 468.1,363.5 468.2,309.8 468.4,330.4 468.4,327.0 468.4,307.8 468.7,364.9 468.8,341.1 468.8,324.2 468.8,309.4 469.0,364.0 469.2,358.4 469.2,340.4 469.2,359.4 469.4,301.0 469.6,354.2 469.6,341.1 469.6,315.0 469.8,364.8 470.0,339.0 470.0,340.2 470.1,313.1 470.3,366.5 470.4,340.0 470.4,349.0 470.4,313.1 470.5,373.7 470.8,348.9 470.8,343.5 471.0,371.7 471.1,321.4 471.2,349.1 471.2,346.3 471.4,367.7 471.6,314.9 471.6,340.8 471.6,334.6 471.6,307.3 472.0,387.7 472.0,336.0 472.1,319.2 472.4,374.6 472.4,354.1 472.4,345.2 472.5,316.0 472.7,368.5 472.8,334.4 472.8,326.0 472.8,311.6 472.9,368.6 473.2,342.6 473.2,366.7 473.2,311.9 473.5,372.0 473.6,353.3 473.6,336.7 473.6,377.1 473.8,314.3 474.0,322.8 474.0,336.0 474.3,368.3 474.4,321.6 474.4,343.5 474.4,371.8 474.5,317.0 474.8,352.4 474.8,347.6 474.9,313.0 475.0,366.4 475.2,362.9 475.2,341.1 475.4,320.7 475.5,381.1 475.6,344.1 475.6,335.9 475.8,310.9 475.9,365.4 476.0,364.0 476.0,341.3 476.0,380.9 476.3,324.8 476.4,365.2 476.4,348.8 476.4,378.1 476.7,312.3 476.8,352.5 476.8,343.0 476.8,381.1 476.8,315.2 477.2,343.1 477.2,347.2 477.4,322.5 477.4,371.5 477.6,341.9 477.6,325.7 477.6,322.7 477.7,382.8 478.0,342.4 478.0,344.6 478.0,319.0 478.3,388.4 478.4,346.0 478.4,346.6 478.5,320.7 478.6,387.5 478.8,357.5 478.8,347.7 478.8,322.9 479.1,373.4 479.2,365.4 479.2,332.5 479.2,380.6 479.5,323.6 479.6,368.0 479.6,364.7 479.7,381.6 479.7,316.0 480.0,355.1 480.0,340.5 480.2,390.3 480.2,323.5 480.4,351.2 480.4,339.7 480.5,330.9 480.5,373.8 480.8,333.3 480.8,349.4 481.1,381.9 481.1,318.7 481.2,356.0 481.2,358.9 481.2,319.6 481.5,399.7 481.6,350.3 481.6,346.8 481.7,328.8 482.0,393.7 482.0,362.3 482.0,350.4 482.1,392.2 482.2,323.1 482.4,362.3 482.4,347.8 482.4,315.4 482.5,379.9 482.8,366.3 482.8,344.9 482.8,329.2 483.0,380.9 483.2,343.7 483.2,361.9 483.3,388.0 483.4,330.7 483.6,355.4 483.6,368.5 483.6,326.7 483.9,384.4 484.0,363.6 484.0,356.6 484.1,403.1 484.2,327.5 484.4,356.5 484.4,344.6 484.4,325.7 484.6,394.2 484.8,343.4 484.8,363.4 484.8,387.4 484.9,322.1 485.2,348.0 485.2,357.5 485.3,326.3 485.4,383.7 485.6,356.9 485.6,348.6 485.7,394.0 485.8,326.1 486.0,380.6 486.0,361.8 486.1,328.0 486.2,387.2 486.4,355.1 486.4,345.9 486.4,392.1 486.5,321.0 486.8,366.2 486.8,358.4 486.8,400.5 486.9,327.9 487.2,359.4 487.2,358.2 487.3,333.0 487.5,393.7 487.6,371.3 487.6,374.5 487.9,385.1 487.9,328.7 488.0,366.1 488.0,354.5 488.0,401.8 488.1,337.2 488.4,366.4 488.4,376.5 488.4,335.9 488.5,391.0 488.8,374.6 488.8,346.6 488.9,390.4 489.0,340.5 489.2,355.5 489.2,359.7 489.2,338.8 489.4,391.5 489.6,366.9 489.6,356.5 489.6,404.6 489.6,339.6 490.0,350.0 490.0,359.2 490.1,335.3 490.3,393.3 490.4,351.5 490.4,338.2 490.5,392.4 490.7,335.1 490.8,388.0 490.8,359.9 490.8,334.7 491.1,392.4 491.2,368.6 491.2,364.2 491.3,388.9 491.3,341.3 491.6,367.5 491.6,352.2 491.7,408.0 491.8,338.9 492.0,371.5 492.0,366.5 492.2,339.7 492.2,393.9 492.4,360.9 492.4,362.8 492.6,329.2 492.7,396.7 492.8,379.9 492.8,364.5 492.9,337.5 493.0,403.1 493.2,352.3 493.2,370.5 493.4,334.5 493.5,401.0 493.6,371.8 493.6,406.5 493.8,333.7 494.0,359.9 494.0,355.0 494.3,336.6 494.3,408.6 494.4,370.4 494.4,371.7 494.7,339.1 494.7,397.7 494.8,357.6 494.8,381.0 494.8,338.9 495.0,393.9 495.2,354.0 495.2,373.7 495.4,341.5 495.4,402.1 495.6,365.1 495.6,395.9 495.7,344.4 495.9,402.1 496.0,348.8 496.0,371.2 496.3,342.2 496.3,399.5 496.4,385.9 496.4,369.5 496.5,406.3 496.6,348.4 496.8,388.0 496.8,352.8 497.1,345.1 497.1,415.3 497.2,377.4 497.2,355.4 497.4,400.7 497.4,347.1 497.6,348.9 497.6,363.6 497.6,400.2 497.9,342.6 498.0,365.1 498.0,381.6 498.3,347.4 498.3,413.5 498.4,391.5 498.4,383.5 498.5,344.0 498.7,435.8 498.8,349.5 498.8,373.5 499.0,417.6 499.1,347.1 499.2,390.6 499.2,357.4 499.2,345.3 499.5,417.9 499.6,363.4 499.6,366.9 499.9,348.7 499.9,404.6 500.0,355.5 500.0,388.5 500.0,425.8 500.0,342.4 500.4,367.2 500.4,375.3 500.5,407.3 500.7,344.0 500.8,369.5 500.8,372.6 500.9,414.3 500.9,354.0 501.2,381.1 501.2,363.9 501.2,344.5 501.3,415.7 501.6,358.8 501.6,387.9 501.8,354.1 501.9,417.3 502.0,362.9 502.0,382.0 502.2,406.6 502.4,349.2 502.4,367.5 502.4,396.0 502.5,355.4 502.6,416.4 502.8,376.6 502.8,368.4 503.1,354.4 503.1,405.7 503.2,388.9 503.2,365.4 503.2,407.2 503.3,349.4 503.6,379.4 503.6,389.0 503.7,349.7 503.8,423.2 504.0,390.8 504.0,370.0 504.0,353.0 504.1,417.3 504.4,372.0 504.4,382.0 504.4,354.4 504.5,407.5 504.8,374.0 504.8,374.5 504.8,410.2 504.9,354.7 505.2,376.3 505.2,369.3 505.3,414.5 505.3,351.7 505.6,381.9 505.6,396.2 505.6,408.2 505.9,357.4 506.0,375.4 506.0,381.8 506.1,413.2 506.4,356.3 506.4,397.1 506.4,366.4 506.4,407.3 506.6,355.2 506.8,394.9 506.8,398.2 506.9,419.5 507.1,360.2 507.2,400.1 507.2,396.6 507.2,355.3 507.4,424.1 507.6,378.7 507.6,388.0 507.8,415.3 507.9,358.1 508.0,389.0 508.0,381.6 508.0,359.5 508.3,412.0 508.3,393.5" fill="none" stroke="#536466" stroke-width="1.3" stroke-linejoin="round"/>
<polyline points="508.3,380.1 508.4,360.8 508.4,426.1 508.7,389.9 508.7,378.1 508.8,360.1 508.8,435.4 509.1,371.5 509.1,400.5 509.2,356.1 509.4,430.8 509.5,380.1 509.5,378.1 509.6,427.1 509.6,354.2 509.9,381.0 509.9,393.8 510.2,357.5 510.3,427.9 510.3,390.3 510.3,381.9 510.4,366.4 510.6,426.4 510.7,382.0 510.7,388.3 510.8,356.1 511.0,430.6 511.1,400.5 511.1,371.2 511.3,362.1 511.3,424.2 511.5,399.7 511.5,397.1 511.5,352.2 511.5,418.5 511.9,391.2 511.9,388.4 512.0,365.6 512.2,420.0 512.3,378.2 512.3,394.3 512.3,365.4 512.5,430.3 512.7,385.2 512.7,385.3 513.0,425.7 513.0,366.9 513.1,391.0 513.1,381.0 513.1,366.2 513.4,433.8 513.5,378.9 513.5,378.7 513.7,358.4 513.9,438.1 513.9,389.8 513.9,385.9 514.0,432.9 514.2,367.1 514.3,397.2 514.3,390.1 514.5,367.8 514.6,429.9 514.7,399.6 514.7,410.9 514.8,424.4 515.0,360.8 515.1,386.6 515.1,381.9 515.2,365.8 515.3,443.5 515.5,386.3 515.5,404.9 515.8,365.0 515.9,441.8 515.9,379.1 515.9,415.4 516.2,428.5 516.2,367.0 516.3,391.6 516.3,392.9 516.4,361.4 516.5,425.2 516.7,389.2 516.7,383.2 516.7,363.0 517.0,435.7 517.1,387.1 517.1,386.7 517.2,368.1 517.3,422.6 517.5,391.9 517.5,398.3 517.8,440.2 517.9,369.1 517.9,383.3 517.9,384.7 518.0,441.9 518.1,368.9 518.3,384.0 518.3,390.6 518.5,369.1 518.6,434.6 518.7,411.1 518.7,392.3 518.9,427.5 519.0,366.7 519.1,387.7 519.1,400.4 519.3,444.4 519.4,372.8 519.5,385.5 519.5,411.0 519.6,366.8 519.7,433.1 519.9,399.3 519.9,388.1 520.1,444.8 520.1,373.0 520.3,384.0 520.3,403.1 520.4,370.5 520.7,433.1 520.7,388.3 520.7,418.5 520.7,370.4 520.7,436.9 521.1,399.4 521.1,409.1 521.2,369.4 521.4,426.0 521.5,388.1 521.5,390.3 521.5,432.7 521.6,371.6 521.9,382.9 521.9,387.3 522.3,372.5 522.3,431.6 522.3,402.1 522.3,385.1 522.3,371.9 522.4,454.5 522.7,389.6 522.7,417.3 523.0,445.9 523.1,373.9 523.1,418.8 523.1,403.2 523.2,432.9 523.2,371.4 523.5,407.0 523.5,397.9 523.7,377.9 523.8,437.9 523.9,427.4 523.9,412.1 524.2,376.3 524.2,430.6 524.3,383.7 524.3,403.0 524.3,440.6 524.6,371.2 524.7,395.2 524.7,421.4 524.8,377.6 525.0,442.8 525.1,406.2 525.1,419.2 525.2,436.7 525.3,373.3 525.5,417.4 525.5,398.6 525.7,372.8 525.7,444.9 525.9,420.9 525.9,401.6 525.9,447.5 526.2,372.7 526.3,398.5 526.3,413.0 526.3,372.1 526.6,452.8 526.7,414.2 526.7,403.3 526.9,376.8 527.0,448.2 527.1,392.2 527.1,394.9 527.2,376.1 527.4,441.5 527.5,394.6 527.5,392.5 527.5,446.8 527.8,370.4 527.9,405.8 527.9,392.6 527.9,375.3 528.3,443.1 528.3,399.2 528.3,397.2 528.5,373.3 528.6,434.7 528.7,417.5 528.7,415.2 529.0,375.5 529.0,451.1 529.1,393.8 529.1,373.4 529.4,446.8 529.5,389.5 529.5,432.9 529.5,454.5 529.6,373.6 529.9,419.8 529.9,408.7 530.0,377.2 530.2,453.8 530.3,387.6 530.3,400.4 530.6,441.4 530.6,382.1 530.7,394.3 530.7,412.2 530.9,377.4 531.0,443.6 531.1,398.6 531.1,422.9 531.3,447.8 531.4,378.1 531.5,403.9 531.5,409.7 531.7,382.0 531.8,446.0 531.9,401.0 531.9,395.0 531.9,448.6 532.0,373.0 532.3,416.0 532.3,393.5 532.4,373.9 532.6,439.3 532.7,378.2 532.7,421.2 532.7,446.3 533.0,380.2 533.1,398.7 533.1,412.2 533.1,379.1 533.2,451.6 533.5,389.6 533.5,410.1 533.6,454.5 533.7,379.1 533.9,385.2 533.9,393.7 534.0,441.9 534.3,381.0 534.3,402.3 534.3,405.2 534.5,373.9 534.6,450.2 534.7,408.3 534.7,414.7 534.8,378.3 535.0,454.5 535.1,401.1 535.1,423.0 535.1,454.5 535.4,374.9 535.5,440.2 535.5,392.5 535.8,378.4 535.9,454.5 535.9,439.6 535.9,398.1 536.1,444.3 536.2,378.0 536.3,420.8 536.3,404.0 536.6,382.1 536.7,454.5 536.7,399.7 536.7,422.0 536.8,441.7 536.9,381.4 537.1,390.4 537.1,395.1 537.3,374.1 537.4,443.4 537.5,403.9 537.5,409.5 537.8,377.8 537.8,443.2 537.9,425.6 537.9,394.5 537.9,441.3 538.0,384.4 538.1,404.5" fill="none" stroke="#222a2b" stroke-width="1.3" stroke-linejoin="round"/>
<polyline points="72.0,243.2 73.6,243.2 75.1,243.2 76.7,243.2 78.2,243.2 79.8,243.2 81.4,243.2 82.9,243.2 84.5,243.2 86.0,243.2 87.6,243.2 89.1,243.2 90.7,243.2 92.3,243.2 93.8,243.2 95.4,243.2 96.9,243.2 98.5,243.2 100.1,243.2 101.6,243.2 103.2,243.2 104.7,243.2 106.3,243.2 107.9,243.2 109.4,243.2 111.0,243.2 112.5,243.2 114.1,243.2 115.6,243.2 117.2,243.2 118.8,243.2 120.3,243.2 121.9,243.2 123.4,243.2 125.0,243.2 126.6,243.2 128.1,243.2 129.7,243.2 131.2,243.2 132.8,243.2 134.4,243.2 135.9,243.2 137.5,243.2 139.0,243.2 140.6,243.2 142.1,243.2 143.7,243.2 145.3,243.2 146.8,243.2 148.4,243.2 149.9,243.2 151.5,243.2 153.1,243.2 154.6,243.2 156.2,243.2 157.7,243.2 159.3,243.2 160.9,243.2 162.4,243.2 164.0,243.2 165.5,243.2 167.1,243.2 168.6,243.2 170.2,243.2 171.8,243.2 173.3,243.2 174.9,243.2 176.4,243.2 178.0,243.2 179.6,243.2 181.1,243.2 182.7,243.2 184.2,243.2 185.8,243.2 187.4,243.2 188.9,243.2 190.5,243.2 192.0,243.2 193.6,243.2 195.1,243.2 196.7,243.2 198.3,243.2 199.8,243.2 201.4,243.2 202.9,243.2 204.5,243.2 206.1,243.2 207.6,243.2 209.2,243.2 210.7,243.2 212.3,243.2 213.9,243.2 215.4,243.2 217.0,243.2 218.5,243.2 220.1,243.2 221.6,243.2 223.2,243.2 224.8,243.2 226.3,243.2 227.9,243.2 229.4,243.2 231.0,243.2 232.6,243.2 234.1,243.2 235.7,243.2 237.2,243.2 238.8,243.2 240.4,243.2 241.9,243.2 243.5,243.2 245.0,243.2 246.6,243.2 248.1,243.2 249.7,243.2 251.3,243.2 252.8,243.2 254.4,243.2 255.9,243.3 257.5,243.3 259.1,243.3 260.6,243.3 262.2,243.3 263.7,243.3 265.3,243.3 266.9,243.3 268.4,243.3 270.0,243.3 271.5,243.3 273.1,243.3 274.6,243.3 276.2,243.3 277.8,243.3 279.3,243.4 280.9,243.4 282.4,243.4 284.0,243.4 285.6,243.4 287.1,243.4 288.7,243.4 290.2,243.4 291.8,243.5 293.4,243.5 294.9,243.5 296.5,243.5 298.0,243.5 299.6,243.6 301.1,243.6 302.7,243.6 304.3,243.6 305.8,243.7 307.4,243.7 308.9,243.7 310.5,243.8 312.1,243.8 313.6,243.8 315.2,243.9 316.7,243.9 318.3,244.0 319.9,244.0 321.4,244.1 323.0,244.1 324.5,244.2 326.1,244.2 327.6,244.3 329.2,244.4 330.8,244.4 332.3,244.5 333.9,244.6 335.4,244.7 337.0,244.8 338.6,244.9 340.1,245.0 341.7,245.1 343.2,245.2 344.8,245.3 346.4,245.5 347.9,245.6 349.5,245.8 351.0,245.9 352.6,246.1 354.1,246.3 355.7,246.5 357.3,246.7 358.8,246.9 360.4,247.1 361.9,247.3 363.5,247.6 365.1,247.9 366.6,248.1 368.2,248.4 369.7,248.7 371.3,249.1 372.9,249.4 374.4,249.8 376.0,250.2 377.5,250.6 379.1,251.0 380.6,251.4 382.2,251.9 383.8,252.4 385.3,252.9 386.9,253.4 388.4,254.0 390.0,254.6 391.6,255.2 393.1,255.8 394.7,256.5 396.2,257.2 397.8,257.9 399.4,258.7 400.9,259.5 402.5,260.3 404.0,261.1 405.6,262.0 407.1,262.9 408.7,263.9 410.3,264.9 411.8,265.9 413.4,266.9 414.9,268.0 416.5,269.1 418.1,270.2 419.6,271.4 421.2,272.6 422.7,273.8 424.3,275.1 425.9,276.4 427.4,277.7 429.0,279.1 430.5,280.4 432.1,281.8 433.6,283.3 435.2,284.8 436.8,286.2 438.3,287.8 439.9,289.3 441.4,290.9 443.0,292.5 444.6,294.1 446.1,295.7 447.7,297.4 449.2,299.0 450.8,300.7 452.4,302.4 453.9,304.2 455.5,305.9 457.0,307.7 458.6,309.4 460.1,311.2 461.7,313.0 463.3,314.8 464.8,316.7 466.4,318.5 467.9,320.4 469.5,322.2 471.1,324.1 472.6,326.0 474.2,327.8 475.7,329.7 477.3,331.6 478.9,333.5 480.4,335.4 482.0,337.3 483.5,339.3 485.1,341.2 486.6,343.1 488.2,345.0 489.8,346.9 491.3,348.8 492.9,350.7 494.4,352.7 496.0,354.6 497.6,356.5 499.1,358.4 500.7,360.2 502.2,362.1 503.8,364.0 505.4,365.8 506.9,367.7 508.5,369.5 510.0,371.3 511.6,373.1 513.1,374.9 514.7,376.6 516.3,378.3 517.8,380.0 519.4,381.6 520.9,383.2 522.5,384.8 524.1,386.3 525.6,387.7 527.2,389.1 528.7,390.4 530.3,391.6 531.9,392.8 533.4,393.8 535.0,394.7 536.5,395.5 538.1,396.1" fill="none" stroke="#0a0a0a" stroke-width="4.5" stroke-linejoin="round"/>
<g fill="none" stroke="#111" stroke-linecap="butt">
<path d="M426.0 37.0H72.0V197.0H426.0" stroke-width="1.7" stroke-linejoin="miter"/>
<path d="M444.5 37.0H542.0V197.0H444.5" stroke-width="1.7" stroke-linejoin="miter"/>
<rect x="72.0" y="209.0" width="470.0" height="246.5" stroke-width="1.7"/>
</g>
<g font-family="'Liberation Serif', 'Times New Roman', serif" fill="#111" stroke="#111" stroke-width="0.25" stroke-linejoin="round" text-rendering="geometricPrecision">
<text transform="translate(71.4 32.7) scale(1 1.04)" font-size="17.3" text-anchor="middle">0</text>
<text transform="translate(249.0 32.7) scale(1 1.04)" font-size="17.3" text-anchor="middle">50</text>
<text transform="translate(419.3 32.7) scale(1 1.04)" font-size="17.3" text-anchor="middle">100</text>
<text transform="translate(512.8 32.7) scale(1 1.04)" font-size="17.3" text-anchor="middle">2000</text>
<text transform="translate(65.2 46.5) scale(1 1.04)" font-size="17.3" text-anchor="end">50</text>
<text transform="translate(65.2 84.0) scale(1 1.04)" font-size="17.3" text-anchor="end">25</text>
<text transform="translate(65.2 123.1) scale(1 1.04)" font-size="17.3" text-anchor="end">0</text>
<text transform="translate(65.2 164.1) scale(1 1.04)" font-size="17.3" text-anchor="end">-25</text>
<text transform="translate(65.2 200.4) scale(1 1.04)" font-size="17.3" text-anchor="end">-50</text>
<text transform="translate(65.2 238.3) scale(1 1.04)" font-size="17.3" text-anchor="end">0<tspan dx="-0.9">.</tspan><tspan dx="-0.9">1</tspan></text>
<text transform="translate(65.2 315.5) scale(1 1.04)" font-size="17.3" text-anchor="end">0<tspan dx="-0.9">.</tspan><tspan dx="-0.9">01</tspan></text>
<text transform="translate(65.2 392.7) scale(1 1.04)" font-size="17.3" text-anchor="end">0<tspan dx="-0.9">.</tspan><tspan dx="-0.9">001</tspan></text>
<text transform="translate(60.7 478.5) scale(1 1.04)" font-size="17.3" text-anchor="start">10<tspan font-size="12" dy="-9.6" dx="0.4">0</tspan></text>
<text transform="translate(176.0 478.5) scale(1 1.04)" font-size="17.3" text-anchor="start">10<tspan font-size="12" dy="-9.6" dx="0.4">1</tspan></text>
<text transform="translate(291.3 478.5) scale(1 1.04)" font-size="17.3" text-anchor="start">10<tspan font-size="12" dy="-9.6" dx="0.4">2</tspan></text>
<text transform="translate(406.6 478.5) scale(1 1.04)" font-size="17.3" text-anchor="start">10<tspan font-size="12" dy="-9.6" dx="0.4">3</tspan></text>
<text transform="translate(521.9 478.5) scale(1 1.04)" font-size="17.3" text-anchor="start">10<tspan font-size="12" dy="-9.6" dx="0.4">4</tspan></text>
<text transform="translate(402.5 183.6) scale(1 1.02)" font-size="19.2" text-anchor="start" stroke-width="0.5">(a)</text>
<text transform="translate(507.5 183.6) scale(1 1.02)" font-size="19.2" text-anchor="start" stroke-width="0.5">(b)</text>
<text transform="translate(507.5 231.5) scale(1 1.02)" font-size="19.2" text-anchor="start" stroke-width="0.5">(c)</text>
<text transform="translate(250.3 13.7) scale(1 1.04)" font-size="17" text-anchor="middle" font-weight="bold" stroke-width="0.2">Time [ms]</text>
<text transform="translate(493.0 13.7) scale(1 1.04)" font-size="17" text-anchor="middle" font-weight="bold" stroke-width="0.2">Counts</text>
<text transform="translate(315.2 496.0) scale(1 1.04)" font-size="17" text-anchor="middle" font-weight="bold" stroke-width="0.2">Frequency [Hz]</text>
<text transform="translate(15.8 117.3) rotate(-90) scale(1 1.04)" font-size="17" text-anchor="middle" font-weight="bold" stroke-width="0.2">Position [nm]</text>
<text transform="translate(15.8 333.6) rotate(-90) scale(1 1.04)" font-size="17" text-anchor="middle" font-weight="bold" stroke-width="0.2">Power spectral density [nm<tspan font-size="11" dy="-6">2</tspan><tspan dy="6">/Hz]</tspan></text>
</g>
</svg>
</body></html>
